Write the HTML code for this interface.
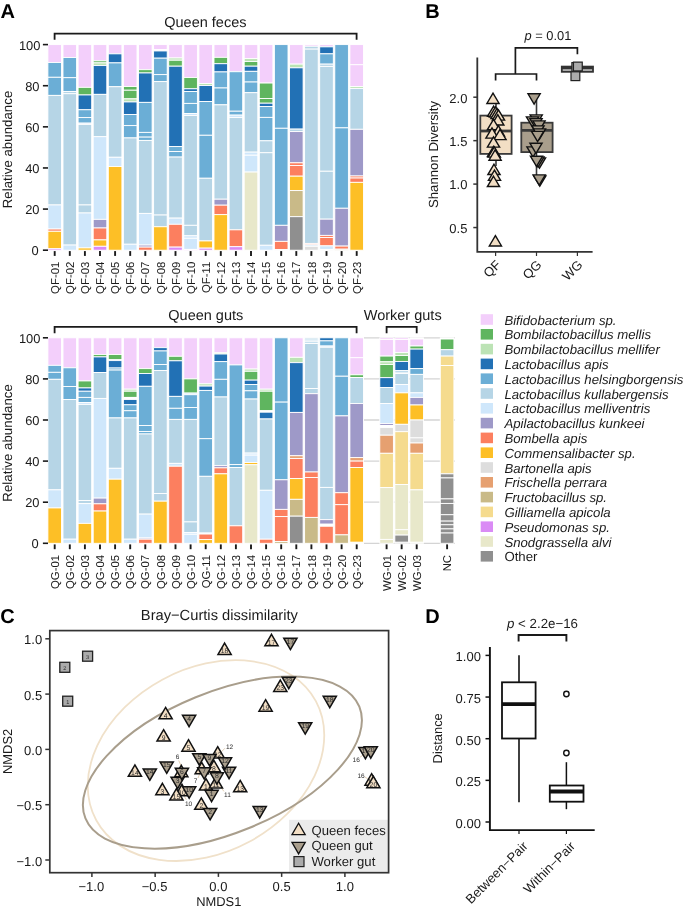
<!DOCTYPE html>
<html><head><meta charset="utf-8"><style>
html,body{margin:0;padding:0;background:#fff;width:685px;height:909px;overflow:hidden}
svg{display:block;will-change:transform;text-rendering:geometricPrecision}
</style></head><body>
<svg width="685" height="909" viewBox="0 0 685 909" font-family="Liberation Sans, sans-serif">
<rect width="685" height="909" fill="#fff"/>
<text x="0.4" y="17.9" font-size="20" font-weight="bold" fill="#000">A</text>
<rect x="47.90" y="44.60" width="13.6" height="17.89" fill="#F3CFFB" stroke="#fff" stroke-width="0.9"/>
<rect x="47.90" y="62.49" width="13.6" height="14.80" fill="#6BAED6" stroke="#fff" stroke-width="0.9"/>
<rect x="47.90" y="77.29" width="13.6" height="18.09" fill="#6BAED6" stroke="#fff" stroke-width="0.9"/>
<rect x="47.90" y="95.38" width="13.6" height="109.58" fill="#B6D5E6" stroke="#fff" stroke-width="0.9"/>
<rect x="47.90" y="204.97" width="13.6" height="24.06" fill="#CFE7FB" stroke="#fff" stroke-width="0.9"/>
<rect x="47.90" y="229.02" width="13.6" height="2.26" fill="#FC7F5F" stroke="#fff" stroke-width="0.9"/>
<rect x="47.90" y="231.28" width="13.6" height="17.48" fill="#FDBF26" stroke="#fff" stroke-width="0.9"/>
<rect x="47.90" y="248.76" width="13.6" height="1.44" fill="#DA8BF5" stroke="#fff" stroke-width="0.9"/>
<rect x="63.00" y="44.60" width="13.6" height="12.95" fill="#F3CFFB" stroke="#fff" stroke-width="0.9"/>
<rect x="63.00" y="57.55" width="13.6" height="20.15" fill="#6BAED6" stroke="#fff" stroke-width="0.9"/>
<rect x="63.00" y="77.70" width="13.6" height="13.78" fill="#6BAED6" stroke="#fff" stroke-width="0.9"/>
<rect x="63.00" y="91.48" width="13.6" height="2.26" fill="#B6D5E6" stroke="#fff" stroke-width="0.9"/>
<rect x="63.00" y="93.74" width="13.6" height="151.32" fill="#B6D5E6" stroke="#fff" stroke-width="0.9"/>
<rect x="63.00" y="245.06" width="13.6" height="5.14" fill="#CFE7FB" stroke="#fff" stroke-width="0.9"/>
<rect x="78.10" y="44.60" width="13.6" height="42.76" fill="#F3CFFB" stroke="#fff" stroke-width="0.9"/>
<rect x="78.10" y="87.36" width="13.6" height="7.61" fill="#5FB55F" stroke="#fff" stroke-width="0.9"/>
<rect x="78.10" y="94.97" width="13.6" height="14.80" fill="#2271B5" stroke="#fff" stroke-width="0.9"/>
<rect x="78.10" y="109.78" width="13.6" height="7.81" fill="#6BAED6" stroke="#fff" stroke-width="0.9"/>
<rect x="78.10" y="117.59" width="13.6" height="5.55" fill="#6BAED6" stroke="#fff" stroke-width="0.9"/>
<rect x="78.10" y="123.14" width="13.6" height="1.23" fill="#CFE7FB" stroke="#fff" stroke-width="0.9"/>
<rect x="78.10" y="124.37" width="13.6" height="80.60" fill="#B6D5E6" stroke="#fff" stroke-width="0.9"/>
<rect x="78.10" y="204.97" width="13.6" height="8.02" fill="#B6D5E6" stroke="#fff" stroke-width="0.9"/>
<rect x="78.10" y="212.99" width="13.6" height="34.95" fill="#CFE7FB" stroke="#fff" stroke-width="0.9"/>
<rect x="78.10" y="247.94" width="13.6" height="2.26" fill="#FDBF26" stroke="#fff" stroke-width="0.9"/>
<rect x="93.20" y="44.60" width="13.6" height="16.24" fill="#F3CFFB" stroke="#fff" stroke-width="0.9"/>
<rect x="93.20" y="60.84" width="13.6" height="2.06" fill="#5FB55F" stroke="#fff" stroke-width="0.9"/>
<rect x="93.20" y="62.90" width="13.6" height="2.67" fill="#BCE3B5" stroke="#fff" stroke-width="0.9"/>
<rect x="93.20" y="65.57" width="13.6" height="28.78" fill="#2271B5" stroke="#fff" stroke-width="0.9"/>
<rect x="93.20" y="94.36" width="13.6" height="42.35" fill="#B6D5E6" stroke="#fff" stroke-width="0.9"/>
<rect x="93.20" y="136.71" width="13.6" height="82.65" fill="#CFE7FB" stroke="#fff" stroke-width="0.9"/>
<rect x="93.20" y="219.36" width="13.6" height="8.64" fill="#9E99C8" stroke="#fff" stroke-width="0.9"/>
<rect x="93.20" y="228.00" width="13.6" height="11.92" fill="#FC7F5F" stroke="#fff" stroke-width="0.9"/>
<rect x="93.20" y="239.92" width="13.6" height="6.37" fill="#FDBF26" stroke="#fff" stroke-width="0.9"/>
<rect x="93.20" y="246.29" width="13.6" height="3.91" fill="#DA8BF5" stroke="#fff" stroke-width="0.9"/>
<rect x="108.30" y="44.60" width="13.6" height="9.25" fill="#F3CFFB" stroke="#fff" stroke-width="0.9"/>
<rect x="108.30" y="53.85" width="13.6" height="9.05" fill="#2271B5" stroke="#fff" stroke-width="0.9"/>
<rect x="108.30" y="62.90" width="13.6" height="23.85" fill="#6BAED6" stroke="#fff" stroke-width="0.9"/>
<rect x="108.30" y="86.75" width="13.6" height="70.52" fill="#B6D5E6" stroke="#fff" stroke-width="0.9"/>
<rect x="108.30" y="157.27" width="13.6" height="9.25" fill="#CFE7FB" stroke="#fff" stroke-width="0.9"/>
<rect x="108.30" y="166.52" width="13.6" height="83.68" fill="#FDBF26" stroke="#fff" stroke-width="0.9"/>
<rect x="123.40" y="44.60" width="13.6" height="41.94" fill="#F3CFFB" stroke="#fff" stroke-width="0.9"/>
<rect x="123.40" y="86.54" width="13.6" height="3.70" fill="#5FB55F" stroke="#fff" stroke-width="0.9"/>
<rect x="123.40" y="90.24" width="13.6" height="8.64" fill="#5FB55F" stroke="#fff" stroke-width="0.9"/>
<rect x="123.40" y="98.88" width="13.6" height="3.08" fill="#BCE3B5" stroke="#fff" stroke-width="0.9"/>
<rect x="123.40" y="101.96" width="13.6" height="12.54" fill="#2271B5" stroke="#fff" stroke-width="0.9"/>
<rect x="123.40" y="114.50" width="13.6" height="11.10" fill="#6BAED6" stroke="#fff" stroke-width="0.9"/>
<rect x="123.40" y="125.61" width="13.6" height="12.34" fill="#6BAED6" stroke="#fff" stroke-width="0.9"/>
<rect x="123.40" y="137.94" width="13.6" height="106.30" fill="#B6D5E6" stroke="#fff" stroke-width="0.9"/>
<rect x="123.40" y="244.24" width="13.6" height="5.96" fill="#CFE7FB" stroke="#fff" stroke-width="0.9"/>
<rect x="138.50" y="44.60" width="13.6" height="25.08" fill="#F3CFFB" stroke="#fff" stroke-width="0.9"/>
<rect x="138.50" y="69.68" width="13.6" height="3.29" fill="#5FB55F" stroke="#fff" stroke-width="0.9"/>
<rect x="138.50" y="72.97" width="13.6" height="29.40" fill="#2271B5" stroke="#fff" stroke-width="0.9"/>
<rect x="138.50" y="102.37" width="13.6" height="30.02" fill="#6BAED6" stroke="#fff" stroke-width="0.9"/>
<rect x="138.50" y="132.39" width="13.6" height="4.73" fill="#6BAED6" stroke="#fff" stroke-width="0.9"/>
<rect x="138.50" y="137.12" width="13.6" height="3.29" fill="#6BAED6" stroke="#fff" stroke-width="0.9"/>
<rect x="138.50" y="140.41" width="13.6" height="72.99" fill="#B6D5E6" stroke="#fff" stroke-width="0.9"/>
<rect x="138.50" y="213.40" width="13.6" height="31.66" fill="#CFE7FB" stroke="#fff" stroke-width="0.9"/>
<rect x="138.50" y="245.06" width="13.6" height="2.06" fill="#9E99C8" stroke="#fff" stroke-width="0.9"/>
<rect x="138.50" y="247.12" width="13.6" height="3.08" fill="#FC7F5F" stroke="#fff" stroke-width="0.9"/>
<rect x="153.60" y="44.60" width="13.6" height="5.14" fill="#F3CFFB" stroke="#fff" stroke-width="0.9"/>
<rect x="153.60" y="49.74" width="13.6" height="1.23" fill="#FFFFFF" stroke="#fff" stroke-width="0.9"/>
<rect x="153.60" y="50.97" width="13.6" height="7.20" fill="#2271B5" stroke="#fff" stroke-width="0.9"/>
<rect x="153.60" y="58.17" width="13.6" height="16.45" fill="#6BAED6" stroke="#fff" stroke-width="0.9"/>
<rect x="153.60" y="74.62" width="13.6" height="6.99" fill="#6BAED6" stroke="#fff" stroke-width="0.9"/>
<rect x="153.60" y="81.61" width="13.6" height="133.43" fill="#B6D5E6" stroke="#fff" stroke-width="0.9"/>
<rect x="153.60" y="215.04" width="13.6" height="11.72" fill="#B6D5E6" stroke="#fff" stroke-width="0.9"/>
<rect x="153.60" y="226.76" width="13.6" height="23.44" fill="#FDBF26" stroke="#fff" stroke-width="0.9"/>
<rect x="168.70" y="44.60" width="13.6" height="13.36" fill="#F3CFFB" stroke="#fff" stroke-width="0.9"/>
<rect x="168.70" y="57.96" width="13.6" height="2.26" fill="#BCE3B5" stroke="#fff" stroke-width="0.9"/>
<rect x="168.70" y="60.23" width="13.6" height="5.96" fill="#5FB55F" stroke="#fff" stroke-width="0.9"/>
<rect x="168.70" y="66.19" width="13.6" height="80.39" fill="#2271B5" stroke="#fff" stroke-width="0.9"/>
<rect x="168.70" y="146.58" width="13.6" height="4.93" fill="#6BAED6" stroke="#fff" stroke-width="0.9"/>
<rect x="168.70" y="151.51" width="13.6" height="5.55" fill="#6BAED6" stroke="#fff" stroke-width="0.9"/>
<rect x="168.70" y="157.06" width="13.6" height="61.06" fill="#B6D5E6" stroke="#fff" stroke-width="0.9"/>
<rect x="168.70" y="218.13" width="13.6" height="6.17" fill="#CFE7FB" stroke="#fff" stroke-width="0.9"/>
<rect x="168.70" y="224.29" width="13.6" height="22.82" fill="#FC7F5F" stroke="#fff" stroke-width="0.9"/>
<rect x="168.70" y="247.12" width="13.6" height="3.08" fill="#DA8BF5" stroke="#fff" stroke-width="0.9"/>
<rect x="183.80" y="44.60" width="13.6" height="32.90" fill="#F3CFFB" stroke="#fff" stroke-width="0.9"/>
<rect x="183.80" y="77.50" width="13.6" height="11.31" fill="#5FB55F" stroke="#fff" stroke-width="0.9"/>
<rect x="183.80" y="88.80" width="13.6" height="2.67" fill="#2271B5" stroke="#fff" stroke-width="0.9"/>
<rect x="183.80" y="91.48" width="13.6" height="11.92" fill="#6BAED6" stroke="#fff" stroke-width="0.9"/>
<rect x="183.80" y="103.40" width="13.6" height="10.07" fill="#6BAED6" stroke="#fff" stroke-width="0.9"/>
<rect x="183.80" y="113.48" width="13.6" height="2.06" fill="#CFE7FB" stroke="#fff" stroke-width="0.9"/>
<rect x="183.80" y="115.53" width="13.6" height="109.79" fill="#B6D5E6" stroke="#fff" stroke-width="0.9"/>
<rect x="183.80" y="225.32" width="13.6" height="10.49" fill="#B6D5E6" stroke="#fff" stroke-width="0.9"/>
<rect x="183.80" y="235.81" width="13.6" height="2.47" fill="#CFE7FB" stroke="#fff" stroke-width="0.9"/>
<rect x="183.80" y="238.28" width="13.6" height="11.10" fill="#CFE7FB" stroke="#fff" stroke-width="0.9"/>
<rect x="183.80" y="249.38" width="13.6" height="0.82" fill="#DA8BF5" stroke="#fff" stroke-width="0.9"/>
<rect x="198.90" y="44.60" width="13.6" height="38.86" fill="#F3CFFB" stroke="#fff" stroke-width="0.9"/>
<rect x="198.90" y="83.46" width="13.6" height="2.06" fill="#BCE3B5" stroke="#fff" stroke-width="0.9"/>
<rect x="198.90" y="85.51" width="13.6" height="16.04" fill="#2271B5" stroke="#fff" stroke-width="0.9"/>
<rect x="198.90" y="101.55" width="13.6" height="33.72" fill="#6BAED6" stroke="#fff" stroke-width="0.9"/>
<rect x="198.90" y="135.27" width="13.6" height="42.97" fill="#6BAED6" stroke="#fff" stroke-width="0.9"/>
<rect x="198.90" y="178.24" width="13.6" height="62.71" fill="#B6D5E6" stroke="#fff" stroke-width="0.9"/>
<rect x="198.90" y="240.95" width="13.6" height="7.20" fill="#FDBF26" stroke="#fff" stroke-width="0.9"/>
<rect x="198.90" y="248.14" width="13.6" height="2.06" fill="#DA8BF5" stroke="#fff" stroke-width="0.9"/>
<rect x="214.00" y="44.60" width="13.6" height="12.75" fill="#F3CFFB" stroke="#fff" stroke-width="0.9"/>
<rect x="214.00" y="57.35" width="13.6" height="6.37" fill="#5FB55F" stroke="#fff" stroke-width="0.9"/>
<rect x="214.00" y="63.72" width="13.6" height="8.22" fill="#2271B5" stroke="#fff" stroke-width="0.9"/>
<rect x="214.00" y="71.94" width="13.6" height="16.04" fill="#6BAED6" stroke="#fff" stroke-width="0.9"/>
<rect x="214.00" y="87.98" width="13.6" height="16.86" fill="#6BAED6" stroke="#fff" stroke-width="0.9"/>
<rect x="214.00" y="104.84" width="13.6" height="94.37" fill="#B6D5E6" stroke="#fff" stroke-width="0.9"/>
<rect x="214.00" y="199.21" width="13.6" height="5.96" fill="#9E99C8" stroke="#fff" stroke-width="0.9"/>
<rect x="214.00" y="205.17" width="13.6" height="9.46" fill="#FC7F5F" stroke="#fff" stroke-width="0.9"/>
<rect x="214.00" y="214.63" width="13.6" height="35.57" fill="#FDBF26" stroke="#fff" stroke-width="0.9"/>
<rect x="229.10" y="44.60" width="13.6" height="27.14" fill="#F3CFFB" stroke="#fff" stroke-width="0.9"/>
<rect x="229.10" y="71.74" width="13.6" height="39.48" fill="#6BAED6" stroke="#fff" stroke-width="0.9"/>
<rect x="229.10" y="111.21" width="13.6" height="3.91" fill="#6BAED6" stroke="#fff" stroke-width="0.9"/>
<rect x="229.10" y="115.12" width="13.6" height="2.47" fill="#CFE7FB" stroke="#fff" stroke-width="0.9"/>
<rect x="229.10" y="117.59" width="13.6" height="112.26" fill="#B6D5E6" stroke="#fff" stroke-width="0.9"/>
<rect x="229.10" y="229.85" width="13.6" height="16.86" fill="#FC7F5F" stroke="#fff" stroke-width="0.9"/>
<rect x="229.10" y="246.70" width="13.6" height="3.50" fill="#DA8BF5" stroke="#fff" stroke-width="0.9"/>
<rect x="244.20" y="44.60" width="13.6" height="13.98" fill="#F3CFFB" stroke="#fff" stroke-width="0.9"/>
<rect x="244.20" y="58.58" width="13.6" height="2.88" fill="#BCE3B5" stroke="#fff" stroke-width="0.9"/>
<rect x="244.20" y="61.46" width="13.6" height="4.73" fill="#5FB55F" stroke="#fff" stroke-width="0.9"/>
<rect x="244.20" y="66.19" width="13.6" height="5.14" fill="#2271B5" stroke="#fff" stroke-width="0.9"/>
<rect x="244.20" y="71.33" width="13.6" height="10.69" fill="#6BAED6" stroke="#fff" stroke-width="0.9"/>
<rect x="244.20" y="82.02" width="13.6" height="10.69" fill="#6BAED6" stroke="#fff" stroke-width="0.9"/>
<rect x="244.20" y="92.71" width="13.6" height="59.42" fill="#B6D5E6" stroke="#fff" stroke-width="0.9"/>
<rect x="244.20" y="152.13" width="13.6" height="3.08" fill="#CFE7FB" stroke="#fff" stroke-width="0.9"/>
<rect x="244.20" y="155.21" width="13.6" height="16.86" fill="#CFE7FB" stroke="#fff" stroke-width="0.9"/>
<rect x="244.20" y="172.07" width="13.6" height="78.13" fill="#E8E8CA" stroke="#fff" stroke-width="0.9"/>
<rect x="259.30" y="44.60" width="13.6" height="38.45" fill="#F3CFFB" stroke="#fff" stroke-width="0.9"/>
<rect x="259.30" y="83.05" width="13.6" height="15.42" fill="#5FB55F" stroke="#fff" stroke-width="0.9"/>
<rect x="259.30" y="98.47" width="13.6" height="4.73" fill="#5FB55F" stroke="#fff" stroke-width="0.9"/>
<rect x="259.30" y="103.20" width="13.6" height="3.29" fill="#2271B5" stroke="#fff" stroke-width="0.9"/>
<rect x="259.30" y="106.49" width="13.6" height="10.90" fill="#6BAED6" stroke="#fff" stroke-width="0.9"/>
<rect x="259.30" y="117.38" width="13.6" height="23.44" fill="#6BAED6" stroke="#fff" stroke-width="0.9"/>
<rect x="259.30" y="140.82" width="13.6" height="11.92" fill="#B6D5E6" stroke="#fff" stroke-width="0.9"/>
<rect x="259.30" y="152.75" width="13.6" height="92.52" fill="#B6D5E6" stroke="#fff" stroke-width="0.9"/>
<rect x="259.30" y="245.27" width="13.6" height="4.93" fill="#CFE7FB" stroke="#fff" stroke-width="0.9"/>
<rect x="274.40" y="44.60" width="13.6" height="83.68" fill="#6BAED6" stroke="#fff" stroke-width="0.9"/>
<rect x="274.40" y="128.28" width="13.6" height="97.04" fill="#6BAED6" stroke="#fff" stroke-width="0.9"/>
<rect x="274.40" y="225.32" width="13.6" height="16.04" fill="#9E99C8" stroke="#fff" stroke-width="0.9"/>
<rect x="274.40" y="241.36" width="13.6" height="8.22" fill="#FC7F5F" stroke="#fff" stroke-width="0.9"/>
<rect x="274.40" y="249.58" width="13.6" height="0.62" fill="#DDDDDD" stroke="#fff" stroke-width="0.9"/>
<rect x="289.50" y="44.60" width="13.6" height="19.53" fill="#F3CFFB" stroke="#fff" stroke-width="0.9"/>
<rect x="289.50" y="64.13" width="13.6" height="3.70" fill="#BCE3B5" stroke="#fff" stroke-width="0.9"/>
<rect x="289.50" y="67.83" width="13.6" height="61.27" fill="#2271B5" stroke="#fff" stroke-width="0.9"/>
<rect x="289.50" y="129.10" width="13.6" height="2.47" fill="#B6D5E6" stroke="#fff" stroke-width="0.9"/>
<rect x="289.50" y="131.57" width="13.6" height="31.25" fill="#9E99C8" stroke="#fff" stroke-width="0.9"/>
<rect x="289.50" y="162.82" width="13.6" height="2.67" fill="#FC7F5F" stroke="#fff" stroke-width="0.9"/>
<rect x="289.50" y="165.49" width="13.6" height="10.69" fill="#FC7F5F" stroke="#fff" stroke-width="0.9"/>
<rect x="289.50" y="176.18" width="13.6" height="14.39" fill="#FDBF26" stroke="#fff" stroke-width="0.9"/>
<rect x="289.50" y="190.58" width="13.6" height="26.11" fill="#C9BA88" stroke="#fff" stroke-width="0.9"/>
<rect x="289.50" y="216.69" width="13.6" height="33.51" fill="#8F8F8F" stroke="#fff" stroke-width="0.9"/>
<rect x="304.60" y="44.60" width="13.6" height="1.64" fill="#F3CFFB" stroke="#fff" stroke-width="0.9"/>
<rect x="304.60" y="46.24" width="13.6" height="2.88" fill="#B6D5E6" stroke="#fff" stroke-width="0.9"/>
<rect x="304.60" y="49.12" width="13.6" height="194.29" fill="#B6D5E6" stroke="#fff" stroke-width="0.9"/>
<rect x="304.60" y="243.42" width="13.6" height="1.44" fill="#FC7F5F" stroke="#fff" stroke-width="0.9"/>
<rect x="304.60" y="244.85" width="13.6" height="1.44" fill="#CFE7FB" stroke="#fff" stroke-width="0.9"/>
<rect x="304.60" y="246.29" width="13.6" height="3.91" fill="#DDDDDD" stroke="#fff" stroke-width="0.9"/>
<rect x="319.70" y="44.60" width="13.6" height="2.26" fill="#F3CFFB" stroke="#fff" stroke-width="0.9"/>
<rect x="319.70" y="46.86" width="13.6" height="6.99" fill="#2271B5" stroke="#fff" stroke-width="0.9"/>
<rect x="319.70" y="53.85" width="13.6" height="10.28" fill="#6BAED6" stroke="#fff" stroke-width="0.9"/>
<rect x="319.70" y="64.13" width="13.6" height="2.26" fill="#B6D5E6" stroke="#fff" stroke-width="0.9"/>
<rect x="319.70" y="66.39" width="13.6" height="104.86" fill="#B6D5E6" stroke="#fff" stroke-width="0.9"/>
<rect x="319.70" y="171.25" width="13.6" height="47.90" fill="#B6D5E6" stroke="#fff" stroke-width="0.9"/>
<rect x="319.70" y="219.15" width="13.6" height="16.24" fill="#9E99C8" stroke="#fff" stroke-width="0.9"/>
<rect x="319.70" y="235.40" width="13.6" height="2.06" fill="#FC7F5F" stroke="#fff" stroke-width="0.9"/>
<rect x="319.70" y="237.45" width="13.6" height="8.43" fill="#FC7F5F" stroke="#fff" stroke-width="0.9"/>
<rect x="319.70" y="245.88" width="13.6" height="3.50" fill="#CFE7FB" stroke="#fff" stroke-width="0.9"/>
<rect x="319.70" y="249.38" width="13.6" height="0.82" fill="#DDDDDD" stroke="#fff" stroke-width="0.9"/>
<rect x="334.80" y="44.60" width="13.6" height="83.27" fill="#6BAED6" stroke="#fff" stroke-width="0.9"/>
<rect x="334.80" y="127.87" width="13.6" height="80.39" fill="#6BAED6" stroke="#fff" stroke-width="0.9"/>
<rect x="334.80" y="208.26" width="13.6" height="37.83" fill="#9E99C8" stroke="#fff" stroke-width="0.9"/>
<rect x="334.80" y="246.09" width="13.6" height="3.08" fill="#FC7F5F" stroke="#fff" stroke-width="0.9"/>
<rect x="334.80" y="249.17" width="13.6" height="1.03" fill="#C9BA88" stroke="#fff" stroke-width="0.9"/>
<rect x="349.90" y="44.60" width="13.6" height="20.15" fill="#F3CFFB" stroke="#fff" stroke-width="0.9"/>
<rect x="349.90" y="64.75" width="13.6" height="21.79" fill="#F3CFFB" stroke="#fff" stroke-width="0.9"/>
<rect x="349.90" y="86.54" width="13.6" height="1.85" fill="#BCE3B5" stroke="#fff" stroke-width="0.9"/>
<rect x="349.90" y="88.39" width="13.6" height="40.91" fill="#B6D5E6" stroke="#fff" stroke-width="0.9"/>
<rect x="349.90" y="129.31" width="13.6" height="46.67" fill="#9E99C8" stroke="#fff" stroke-width="0.9"/>
<rect x="349.90" y="175.98" width="13.6" height="2.06" fill="#FC7F5F" stroke="#fff" stroke-width="0.9"/>
<rect x="349.90" y="178.03" width="13.6" height="4.32" fill="#FC7F5F" stroke="#fff" stroke-width="0.9"/>
<rect x="349.90" y="182.35" width="13.6" height="67.85" fill="#FDBF26" stroke="#fff" stroke-width="0.9"/>
<line x1="42.9" x2="48" y1="250.20" y2="250.20" stroke="#1a1a1a" stroke-width="1.6"/>
<text x="38.60" y="255.10" text-anchor="end" font-size="12.9" fill="#1a1a1a">0</text>
<line x1="42.9" x2="48" y1="209.08" y2="209.08" stroke="#1a1a1a" stroke-width="1.6"/>
<text x="39.50" y="213.98" text-anchor="end" font-size="12.9" fill="#1a1a1a">20</text>
<line x1="42.9" x2="48" y1="167.96" y2="167.96" stroke="#1a1a1a" stroke-width="1.6"/>
<text x="39.50" y="172.86" text-anchor="end" font-size="12.9" fill="#1a1a1a">40</text>
<line x1="42.9" x2="48" y1="126.84" y2="126.84" stroke="#1a1a1a" stroke-width="1.6"/>
<text x="39.50" y="131.74" text-anchor="end" font-size="12.9" fill="#1a1a1a">60</text>
<line x1="42.9" x2="48" y1="85.72" y2="85.72" stroke="#1a1a1a" stroke-width="1.6"/>
<text x="39.50" y="90.62" text-anchor="end" font-size="12.9" fill="#1a1a1a">80</text>
<line x1="42.9" x2="48" y1="44.60" y2="44.60" stroke="#1a1a1a" stroke-width="1.6"/>
<text x="40.40" y="49.50" text-anchor="end" font-size="12.9" fill="#1a1a1a">100</text>
<line x1="54.70" x2="54.70" y1="251.1" y2="255.9" stroke="#1a1a1a" stroke-width="1.9"/>
<text transform="translate(58.80,261.6) rotate(-90)" text-anchor="end" font-size="11.4" fill="#1a1a1a">QF-01</text>
<line x1="69.80" x2="69.80" y1="251.1" y2="255.9" stroke="#1a1a1a" stroke-width="1.9"/>
<text transform="translate(73.90,261.6) rotate(-90)" text-anchor="end" font-size="11.4" fill="#1a1a1a">QF-02</text>
<line x1="84.90" x2="84.90" y1="251.1" y2="255.9" stroke="#1a1a1a" stroke-width="1.9"/>
<text transform="translate(89.00,261.6) rotate(-90)" text-anchor="end" font-size="11.4" fill="#1a1a1a">QF-03</text>
<line x1="100.00" x2="100.00" y1="251.1" y2="255.9" stroke="#1a1a1a" stroke-width="1.9"/>
<text transform="translate(104.10,261.6) rotate(-90)" text-anchor="end" font-size="11.4" fill="#1a1a1a">QF-04</text>
<line x1="115.10" x2="115.10" y1="251.1" y2="255.9" stroke="#1a1a1a" stroke-width="1.9"/>
<text transform="translate(119.20,261.6) rotate(-90)" text-anchor="end" font-size="11.4" fill="#1a1a1a">QF-05</text>
<line x1="130.20" x2="130.20" y1="251.1" y2="255.9" stroke="#1a1a1a" stroke-width="1.9"/>
<text transform="translate(134.30,261.6) rotate(-90)" text-anchor="end" font-size="11.4" fill="#1a1a1a">QF-06</text>
<line x1="145.30" x2="145.30" y1="251.1" y2="255.9" stroke="#1a1a1a" stroke-width="1.9"/>
<text transform="translate(149.40,261.6) rotate(-90)" text-anchor="end" font-size="11.4" fill="#1a1a1a">QF-07</text>
<line x1="160.40" x2="160.40" y1="251.1" y2="255.9" stroke="#1a1a1a" stroke-width="1.9"/>
<text transform="translate(164.50,261.6) rotate(-90)" text-anchor="end" font-size="11.4" fill="#1a1a1a">QF-08</text>
<line x1="175.50" x2="175.50" y1="251.1" y2="255.9" stroke="#1a1a1a" stroke-width="1.9"/>
<text transform="translate(179.60,261.6) rotate(-90)" text-anchor="end" font-size="11.4" fill="#1a1a1a">QF-09</text>
<line x1="190.60" x2="190.60" y1="251.1" y2="255.9" stroke="#1a1a1a" stroke-width="1.9"/>
<text transform="translate(194.70,261.6) rotate(-90)" text-anchor="end" font-size="11.4" fill="#1a1a1a">QF-10</text>
<line x1="205.70" x2="205.70" y1="251.1" y2="255.9" stroke="#1a1a1a" stroke-width="1.9"/>
<text transform="translate(209.80,261.6) rotate(-90)" text-anchor="end" font-size="11.4" fill="#1a1a1a">QF-11</text>
<line x1="220.80" x2="220.80" y1="251.1" y2="255.9" stroke="#1a1a1a" stroke-width="1.9"/>
<text transform="translate(224.90,261.6) rotate(-90)" text-anchor="end" font-size="11.4" fill="#1a1a1a">QF-12</text>
<line x1="235.90" x2="235.90" y1="251.1" y2="255.9" stroke="#1a1a1a" stroke-width="1.9"/>
<text transform="translate(240.00,261.6) rotate(-90)" text-anchor="end" font-size="11.4" fill="#1a1a1a">QF-13</text>
<line x1="251.00" x2="251.00" y1="251.1" y2="255.9" stroke="#1a1a1a" stroke-width="1.9"/>
<text transform="translate(255.10,261.6) rotate(-90)" text-anchor="end" font-size="11.4" fill="#1a1a1a">QF-14</text>
<line x1="266.10" x2="266.10" y1="251.1" y2="255.9" stroke="#1a1a1a" stroke-width="1.9"/>
<text transform="translate(270.20,261.6) rotate(-90)" text-anchor="end" font-size="11.4" fill="#1a1a1a">QF-15</text>
<line x1="281.20" x2="281.20" y1="251.1" y2="255.9" stroke="#1a1a1a" stroke-width="1.9"/>
<text transform="translate(285.30,261.6) rotate(-90)" text-anchor="end" font-size="11.4" fill="#1a1a1a">QF-16</text>
<line x1="296.30" x2="296.30" y1="251.1" y2="255.9" stroke="#1a1a1a" stroke-width="1.9"/>
<text transform="translate(300.40,261.6) rotate(-90)" text-anchor="end" font-size="11.4" fill="#1a1a1a">QF-17</text>
<line x1="311.40" x2="311.40" y1="251.1" y2="255.9" stroke="#1a1a1a" stroke-width="1.9"/>
<text transform="translate(315.50,261.6) rotate(-90)" text-anchor="end" font-size="11.4" fill="#1a1a1a">QF-18</text>
<line x1="326.50" x2="326.50" y1="251.1" y2="255.9" stroke="#1a1a1a" stroke-width="1.9"/>
<text transform="translate(330.60,261.6) rotate(-90)" text-anchor="end" font-size="11.4" fill="#1a1a1a">QF-19</text>
<line x1="341.60" x2="341.60" y1="251.1" y2="255.9" stroke="#1a1a1a" stroke-width="1.9"/>
<text transform="translate(345.70,261.6) rotate(-90)" text-anchor="end" font-size="11.4" fill="#1a1a1a">QF-20</text>
<line x1="356.70" x2="356.70" y1="251.1" y2="255.9" stroke="#1a1a1a" stroke-width="1.9"/>
<text transform="translate(360.80,261.6) rotate(-90)" text-anchor="end" font-size="11.4" fill="#1a1a1a">QF-23</text>
<text transform="translate(11.6,149.5) rotate(-90)" text-anchor="middle" font-size="13.3" fill="#1a1a1a">Relative abundance</text>
<text x="205.4" y="27" text-anchor="middle" font-size="14.5" fill="#1a1a1a">Queen feces</text>
<path d="M54.6,39.8 V33.7 H356.6 V39.8" fill="none" stroke="#1a1a1a" stroke-width="1.8"/>
<line x1="364" x2="455" y1="543.30" y2="543.30" stroke="#D4D4D4" stroke-width="1.3"/>
<line x1="364" x2="455" y1="502.20" y2="502.20" stroke="#D4D4D4" stroke-width="1.3"/>
<line x1="364" x2="455" y1="461.10" y2="461.10" stroke="#D4D4D4" stroke-width="1.3"/>
<line x1="364" x2="455" y1="420.00" y2="420.00" stroke="#D4D4D4" stroke-width="1.3"/>
<line x1="364" x2="455" y1="378.90" y2="378.90" stroke="#D4D4D4" stroke-width="1.3"/>
<line x1="364" x2="455" y1="337.80" y2="337.80" stroke="#D4D4D4" stroke-width="1.3"/>
<rect x="47.90" y="337.80" width="13.6" height="27.54" fill="#F3CFFB" stroke="#fff" stroke-width="0.9"/>
<rect x="47.90" y="365.34" width="13.6" height="6.99" fill="#6BAED6" stroke="#fff" stroke-width="0.9"/>
<rect x="47.90" y="372.32" width="13.6" height="6.99" fill="#6BAED6" stroke="#fff" stroke-width="0.9"/>
<rect x="47.90" y="379.31" width="13.6" height="110.56" fill="#B6D5E6" stroke="#fff" stroke-width="0.9"/>
<rect x="47.90" y="489.87" width="13.6" height="18.08" fill="#CFE7FB" stroke="#fff" stroke-width="0.9"/>
<rect x="47.90" y="507.95" width="13.6" height="35.35" fill="#FDBF26" stroke="#fff" stroke-width="0.9"/>
<rect x="63.00" y="337.80" width="13.6" height="30.00" fill="#F3CFFB" stroke="#fff" stroke-width="0.9"/>
<rect x="63.00" y="367.80" width="13.6" height="18.70" fill="#6BAED6" stroke="#fff" stroke-width="0.9"/>
<rect x="63.00" y="386.50" width="13.6" height="12.95" fill="#6BAED6" stroke="#fff" stroke-width="0.9"/>
<rect x="63.00" y="399.45" width="13.6" height="139.74" fill="#B6D5E6" stroke="#fff" stroke-width="0.9"/>
<rect x="63.00" y="539.19" width="13.6" height="4.11" fill="#CFE7FB" stroke="#fff" stroke-width="0.9"/>
<rect x="78.10" y="337.80" width="13.6" height="43.15" fill="#F3CFFB" stroke="#fff" stroke-width="0.9"/>
<rect x="78.10" y="380.95" width="13.6" height="6.99" fill="#5FB55F" stroke="#fff" stroke-width="0.9"/>
<rect x="78.10" y="387.94" width="13.6" height="3.29" fill="#2271B5" stroke="#fff" stroke-width="0.9"/>
<rect x="78.10" y="391.23" width="13.6" height="6.17" fill="#6BAED6" stroke="#fff" stroke-width="0.9"/>
<rect x="78.10" y="397.39" width="13.6" height="5.14" fill="#6BAED6" stroke="#fff" stroke-width="0.9"/>
<rect x="78.10" y="402.53" width="13.6" height="1.85" fill="#CFE7FB" stroke="#fff" stroke-width="0.9"/>
<rect x="78.10" y="404.38" width="13.6" height="96.17" fill="#B6D5E6" stroke="#fff" stroke-width="0.9"/>
<rect x="78.10" y="500.56" width="13.6" height="3.08" fill="#B6D5E6" stroke="#fff" stroke-width="0.9"/>
<rect x="78.10" y="503.64" width="13.6" height="19.73" fill="#CFE7FB" stroke="#fff" stroke-width="0.9"/>
<rect x="78.10" y="523.37" width="13.6" height="19.93" fill="#FDBF26" stroke="#fff" stroke-width="0.9"/>
<rect x="93.20" y="337.80" width="13.6" height="16.65" fill="#F3CFFB" stroke="#fff" stroke-width="0.9"/>
<rect x="93.20" y="354.45" width="13.6" height="2.47" fill="#5FB55F" stroke="#fff" stroke-width="0.9"/>
<rect x="93.20" y="356.91" width="13.6" height="15.62" fill="#2271B5" stroke="#fff" stroke-width="0.9"/>
<rect x="93.20" y="372.53" width="13.6" height="25.89" fill="#B6D5E6" stroke="#fff" stroke-width="0.9"/>
<rect x="93.20" y="398.42" width="13.6" height="99.67" fill="#CFE7FB" stroke="#fff" stroke-width="0.9"/>
<rect x="93.20" y="498.09" width="13.6" height="5.75" fill="#9E99C8" stroke="#fff" stroke-width="0.9"/>
<rect x="93.20" y="503.84" width="13.6" height="7.19" fill="#FC7F5F" stroke="#fff" stroke-width="0.9"/>
<rect x="93.20" y="511.04" width="13.6" height="32.26" fill="#FDBF26" stroke="#fff" stroke-width="0.9"/>
<rect x="108.30" y="337.80" width="13.6" height="16.65" fill="#F3CFFB" stroke="#fff" stroke-width="0.9"/>
<rect x="108.30" y="354.45" width="13.6" height="5.34" fill="#5FB55F" stroke="#fff" stroke-width="0.9"/>
<rect x="108.30" y="359.79" width="13.6" height="0.82" fill="#CFE7FB" stroke="#fff" stroke-width="0.9"/>
<rect x="108.30" y="360.61" width="13.6" height="7.40" fill="#2271B5" stroke="#fff" stroke-width="0.9"/>
<rect x="108.30" y="368.01" width="13.6" height="2.06" fill="#6BAED6" stroke="#fff" stroke-width="0.9"/>
<rect x="108.30" y="370.06" width="13.6" height="47.88" fill="#6BAED6" stroke="#fff" stroke-width="0.9"/>
<rect x="108.30" y="417.94" width="13.6" height="50.35" fill="#B6D5E6" stroke="#fff" stroke-width="0.9"/>
<rect x="108.30" y="468.29" width="13.6" height="10.89" fill="#CFE7FB" stroke="#fff" stroke-width="0.9"/>
<rect x="108.30" y="479.18" width="13.6" height="64.12" fill="#FDBF26" stroke="#fff" stroke-width="0.9"/>
<rect x="123.40" y="337.80" width="13.6" height="51.38" fill="#F3CFFB" stroke="#fff" stroke-width="0.9"/>
<rect x="123.40" y="389.17" width="13.6" height="2.05" fill="#BCE3B5" stroke="#fff" stroke-width="0.9"/>
<rect x="123.40" y="391.23" width="13.6" height="6.17" fill="#5FB55F" stroke="#fff" stroke-width="0.9"/>
<rect x="123.40" y="397.39" width="13.6" height="2.05" fill="#FFFFFF" stroke="#fff" stroke-width="0.9"/>
<rect x="123.40" y="399.45" width="13.6" height="5.34" fill="#2271B5" stroke="#fff" stroke-width="0.9"/>
<rect x="123.40" y="404.79" width="13.6" height="5.96" fill="#6BAED6" stroke="#fff" stroke-width="0.9"/>
<rect x="123.40" y="410.75" width="13.6" height="7.19" fill="#6BAED6" stroke="#fff" stroke-width="0.9"/>
<rect x="123.40" y="417.94" width="13.6" height="121.25" fill="#B6D5E6" stroke="#fff" stroke-width="0.9"/>
<rect x="123.40" y="539.19" width="13.6" height="4.11" fill="#CFE7FB" stroke="#fff" stroke-width="0.9"/>
<rect x="138.50" y="337.80" width="13.6" height="30.82" fill="#F3CFFB" stroke="#fff" stroke-width="0.9"/>
<rect x="138.50" y="368.62" width="13.6" height="4.93" fill="#5FB55F" stroke="#fff" stroke-width="0.9"/>
<rect x="138.50" y="373.56" width="13.6" height="12.74" fill="#2271B5" stroke="#fff" stroke-width="0.9"/>
<rect x="138.50" y="386.30" width="13.6" height="39.25" fill="#6BAED6" stroke="#fff" stroke-width="0.9"/>
<rect x="138.50" y="425.55" width="13.6" height="5.96" fill="#6BAED6" stroke="#fff" stroke-width="0.9"/>
<rect x="138.50" y="431.51" width="13.6" height="2.47" fill="#6BAED6" stroke="#fff" stroke-width="0.9"/>
<rect x="138.50" y="433.97" width="13.6" height="80.14" fill="#B6D5E6" stroke="#fff" stroke-width="0.9"/>
<rect x="138.50" y="514.12" width="13.6" height="23.84" fill="#CFE7FB" stroke="#fff" stroke-width="0.9"/>
<rect x="138.50" y="537.96" width="13.6" height="1.23" fill="#9E99C8" stroke="#fff" stroke-width="0.9"/>
<rect x="138.50" y="539.19" width="13.6" height="4.11" fill="#FC7F5F" stroke="#fff" stroke-width="0.9"/>
<rect x="153.60" y="337.80" width="13.6" height="9.86" fill="#F3CFFB" stroke="#fff" stroke-width="0.9"/>
<rect x="153.60" y="347.66" width="13.6" height="3.29" fill="#2271B5" stroke="#fff" stroke-width="0.9"/>
<rect x="153.60" y="350.95" width="13.6" height="13.56" fill="#6BAED6" stroke="#fff" stroke-width="0.9"/>
<rect x="153.60" y="364.51" width="13.6" height="5.96" fill="#6BAED6" stroke="#fff" stroke-width="0.9"/>
<rect x="153.60" y="370.47" width="13.6" height="123.09" fill="#B6D5E6" stroke="#fff" stroke-width="0.9"/>
<rect x="153.60" y="493.57" width="13.6" height="7.60" fill="#B6D5E6" stroke="#fff" stroke-width="0.9"/>
<rect x="153.60" y="501.17" width="13.6" height="42.13" fill="#FDBF26" stroke="#fff" stroke-width="0.9"/>
<rect x="168.70" y="337.80" width="13.6" height="18.50" fill="#F3CFFB" stroke="#fff" stroke-width="0.9"/>
<rect x="168.70" y="356.29" width="13.6" height="4.52" fill="#5FB55F" stroke="#fff" stroke-width="0.9"/>
<rect x="168.70" y="360.82" width="13.6" height="35.55" fill="#2271B5" stroke="#fff" stroke-width="0.9"/>
<rect x="168.70" y="396.37" width="13.6" height="11.92" fill="#6BAED6" stroke="#fff" stroke-width="0.9"/>
<rect x="168.70" y="408.29" width="13.6" height="11.10" fill="#6BAED6" stroke="#fff" stroke-width="0.9"/>
<rect x="168.70" y="419.38" width="13.6" height="43.98" fill="#B6D5E6" stroke="#fff" stroke-width="0.9"/>
<rect x="168.70" y="463.36" width="13.6" height="2.88" fill="#CFE7FB" stroke="#fff" stroke-width="0.9"/>
<rect x="168.70" y="466.24" width="13.6" height="77.06" fill="#FC7F5F" stroke="#fff" stroke-width="0.9"/>
<rect x="183.80" y="337.80" width="13.6" height="41.10" fill="#F3CFFB" stroke="#fff" stroke-width="0.9"/>
<rect x="183.80" y="378.90" width="13.6" height="14.18" fill="#5FB55F" stroke="#fff" stroke-width="0.9"/>
<rect x="183.80" y="393.08" width="13.6" height="1.64" fill="#CFE7FB" stroke="#fff" stroke-width="0.9"/>
<rect x="183.80" y="394.72" width="13.6" height="12.74" fill="#6BAED6" stroke="#fff" stroke-width="0.9"/>
<rect x="183.80" y="407.46" width="13.6" height="11.92" fill="#6BAED6" stroke="#fff" stroke-width="0.9"/>
<rect x="183.80" y="419.38" width="13.6" height="102.54" fill="#B6D5E6" stroke="#fff" stroke-width="0.9"/>
<rect x="183.80" y="521.93" width="13.6" height="10.69" fill="#B6D5E6" stroke="#fff" stroke-width="0.9"/>
<rect x="183.80" y="532.61" width="13.6" height="1.64" fill="#CFE7FB" stroke="#fff" stroke-width="0.9"/>
<rect x="183.80" y="534.26" width="13.6" height="9.04" fill="#CFE7FB" stroke="#fff" stroke-width="0.9"/>
<rect x="198.90" y="337.80" width="13.6" height="46.03" fill="#F3CFFB" stroke="#fff" stroke-width="0.9"/>
<rect x="198.90" y="383.83" width="13.6" height="2.26" fill="#BCE3B5" stroke="#fff" stroke-width="0.9"/>
<rect x="198.90" y="386.09" width="13.6" height="4.32" fill="#2271B5" stroke="#fff" stroke-width="0.9"/>
<rect x="198.90" y="390.41" width="13.6" height="48.29" fill="#6BAED6" stroke="#fff" stroke-width="0.9"/>
<rect x="198.90" y="438.70" width="13.6" height="37.61" fill="#6BAED6" stroke="#fff" stroke-width="0.9"/>
<rect x="198.90" y="476.31" width="13.6" height="56.72" fill="#B6D5E6" stroke="#fff" stroke-width="0.9"/>
<rect x="198.90" y="533.02" width="13.6" height="1.03" fill="#CFE7FB" stroke="#fff" stroke-width="0.9"/>
<rect x="198.90" y="534.05" width="13.6" height="5.55" fill="#FC7F5F" stroke="#fff" stroke-width="0.9"/>
<rect x="198.90" y="539.60" width="13.6" height="3.70" fill="#FDBF26" stroke="#fff" stroke-width="0.9"/>
<rect x="214.00" y="337.80" width="13.6" height="15.00" fill="#F3CFFB" stroke="#fff" stroke-width="0.9"/>
<rect x="214.00" y="352.80" width="13.6" height="1.23" fill="#BCE3B5" stroke="#fff" stroke-width="0.9"/>
<rect x="214.00" y="354.03" width="13.6" height="7.60" fill="#2271B5" stroke="#fff" stroke-width="0.9"/>
<rect x="214.00" y="361.64" width="13.6" height="17.67" fill="#6BAED6" stroke="#fff" stroke-width="0.9"/>
<rect x="214.00" y="379.31" width="13.6" height="17.67" fill="#6BAED6" stroke="#fff" stroke-width="0.9"/>
<rect x="214.00" y="396.98" width="13.6" height="68.64" fill="#B6D5E6" stroke="#fff" stroke-width="0.9"/>
<rect x="214.00" y="465.62" width="13.6" height="2.26" fill="#9E99C8" stroke="#fff" stroke-width="0.9"/>
<rect x="214.00" y="467.88" width="13.6" height="5.96" fill="#FC7F5F" stroke="#fff" stroke-width="0.9"/>
<rect x="214.00" y="473.84" width="13.6" height="69.46" fill="#FDBF26" stroke="#fff" stroke-width="0.9"/>
<rect x="229.10" y="337.80" width="13.6" height="27.13" fill="#F3CFFB" stroke="#fff" stroke-width="0.9"/>
<rect x="229.10" y="364.93" width="13.6" height="99.67" fill="#6BAED6" stroke="#fff" stroke-width="0.9"/>
<rect x="229.10" y="464.59" width="13.6" height="2.88" fill="#6BAED6" stroke="#fff" stroke-width="0.9"/>
<rect x="229.10" y="467.47" width="13.6" height="58.36" fill="#B6D5E6" stroke="#fff" stroke-width="0.9"/>
<rect x="229.10" y="525.83" width="13.6" height="17.47" fill="#FC7F5F" stroke="#fff" stroke-width="0.9"/>
<rect x="244.20" y="337.80" width="13.6" height="31.24" fill="#F3CFFB" stroke="#fff" stroke-width="0.9"/>
<rect x="244.20" y="369.04" width="13.6" height="2.26" fill="#BCE3B5" stroke="#fff" stroke-width="0.9"/>
<rect x="244.20" y="371.30" width="13.6" height="8.84" fill="#5FB55F" stroke="#fff" stroke-width="0.9"/>
<rect x="244.20" y="380.13" width="13.6" height="4.32" fill="#2271B5" stroke="#fff" stroke-width="0.9"/>
<rect x="244.20" y="384.45" width="13.6" height="6.37" fill="#6BAED6" stroke="#fff" stroke-width="0.9"/>
<rect x="244.20" y="390.82" width="13.6" height="8.22" fill="#6BAED6" stroke="#fff" stroke-width="0.9"/>
<rect x="244.20" y="399.04" width="13.6" height="54.05" fill="#B6D5E6" stroke="#fff" stroke-width="0.9"/>
<rect x="244.20" y="453.09" width="13.6" height="2.06" fill="#CFE7FB" stroke="#fff" stroke-width="0.9"/>
<rect x="244.20" y="455.14" width="13.6" height="7.40" fill="#CFE7FB" stroke="#fff" stroke-width="0.9"/>
<rect x="244.20" y="462.54" width="13.6" height="2.26" fill="#FDBF26" stroke="#fff" stroke-width="0.9"/>
<rect x="244.20" y="464.80" width="13.6" height="78.50" fill="#E8E8CA" stroke="#fff" stroke-width="0.9"/>
<rect x="259.30" y="337.80" width="13.6" height="51.38" fill="#F3CFFB" stroke="#fff" stroke-width="0.9"/>
<rect x="259.30" y="389.17" width="13.6" height="2.05" fill="#BCE3B5" stroke="#fff" stroke-width="0.9"/>
<rect x="259.30" y="391.23" width="13.6" height="19.52" fill="#5FB55F" stroke="#fff" stroke-width="0.9"/>
<rect x="259.30" y="410.75" width="13.6" height="1.44" fill="#FFFFFF" stroke="#fff" stroke-width="0.9"/>
<rect x="259.30" y="412.19" width="13.6" height="6.78" fill="#2271B5" stroke="#fff" stroke-width="0.9"/>
<rect x="259.30" y="418.97" width="13.6" height="71.31" fill="#B6D5E6" stroke="#fff" stroke-width="0.9"/>
<rect x="259.30" y="490.28" width="13.6" height="48.91" fill="#CFE7FB" stroke="#fff" stroke-width="0.9"/>
<rect x="259.30" y="539.19" width="13.6" height="4.11" fill="#FC7F5F" stroke="#fff" stroke-width="0.9"/>
<rect x="274.40" y="337.80" width="13.6" height="64.32" fill="#6BAED6" stroke="#fff" stroke-width="0.9"/>
<rect x="274.40" y="402.12" width="13.6" height="77.68" fill="#6BAED6" stroke="#fff" stroke-width="0.9"/>
<rect x="274.40" y="479.80" width="13.6" height="29.59" fill="#9E99C8" stroke="#fff" stroke-width="0.9"/>
<rect x="274.40" y="509.39" width="13.6" height="7.19" fill="#FC7F5F" stroke="#fff" stroke-width="0.9"/>
<rect x="274.40" y="516.58" width="13.6" height="24.87" fill="#FC7F5F" stroke="#fff" stroke-width="0.9"/>
<rect x="274.40" y="541.45" width="13.6" height="1.85" fill="#C9BA88" stroke="#fff" stroke-width="0.9"/>
<rect x="289.50" y="337.80" width="13.6" height="19.52" fill="#F3CFFB" stroke="#fff" stroke-width="0.9"/>
<rect x="289.50" y="357.32" width="13.6" height="5.34" fill="#BCE3B5" stroke="#fff" stroke-width="0.9"/>
<rect x="289.50" y="362.67" width="13.6" height="49.73" fill="#2271B5" stroke="#fff" stroke-width="0.9"/>
<rect x="289.50" y="412.40" width="13.6" height="43.36" fill="#9E99C8" stroke="#fff" stroke-width="0.9"/>
<rect x="289.50" y="455.76" width="13.6" height="2.67" fill="#E6A070" stroke="#fff" stroke-width="0.9"/>
<rect x="289.50" y="458.43" width="13.6" height="20.14" fill="#FC7F5F" stroke="#fff" stroke-width="0.9"/>
<rect x="289.50" y="478.57" width="13.6" height="20.76" fill="#FDBF26" stroke="#fff" stroke-width="0.9"/>
<rect x="289.50" y="499.32" width="13.6" height="16.85" fill="#C9BA88" stroke="#fff" stroke-width="0.9"/>
<rect x="289.50" y="516.17" width="13.6" height="27.13" fill="#8F8F8F" stroke="#fff" stroke-width="0.9"/>
<rect x="304.60" y="337.80" width="13.6" height="1.44" fill="#B6D5E6" stroke="#fff" stroke-width="0.9"/>
<rect x="304.60" y="339.24" width="13.6" height="1.64" fill="#6BAED6" stroke="#fff" stroke-width="0.9"/>
<rect x="304.60" y="340.88" width="13.6" height="1.23" fill="#B6D5E6" stroke="#fff" stroke-width="0.9"/>
<rect x="304.60" y="342.12" width="13.6" height="1.44" fill="#6BAED6" stroke="#fff" stroke-width="0.9"/>
<rect x="304.60" y="343.55" width="13.6" height="45.00" fill="#B6D5E6" stroke="#fff" stroke-width="0.9"/>
<rect x="304.60" y="388.56" width="13.6" height="5.14" fill="#B6D5E6" stroke="#fff" stroke-width="0.9"/>
<rect x="304.60" y="393.70" width="13.6" height="78.30" fill="#9E99C8" stroke="#fff" stroke-width="0.9"/>
<rect x="304.60" y="471.99" width="13.6" height="5.55" fill="#FC7F5F" stroke="#fff" stroke-width="0.9"/>
<rect x="304.60" y="477.54" width="13.6" height="39.87" fill="#FC7F5F" stroke="#fff" stroke-width="0.9"/>
<rect x="304.60" y="517.41" width="13.6" height="25.89" fill="#C9BA88" stroke="#fff" stroke-width="0.9"/>
<rect x="319.70" y="337.80" width="13.6" height="3.08" fill="#2271B5" stroke="#fff" stroke-width="0.9"/>
<rect x="319.70" y="340.88" width="13.6" height="5.14" fill="#6BAED6" stroke="#fff" stroke-width="0.9"/>
<rect x="319.70" y="346.02" width="13.6" height="1.23" fill="#CFE7FB" stroke="#fff" stroke-width="0.9"/>
<rect x="319.70" y="347.25" width="13.6" height="140.15" fill="#B6D5E6" stroke="#fff" stroke-width="0.9"/>
<rect x="319.70" y="487.40" width="13.6" height="32.26" fill="#B6D5E6" stroke="#fff" stroke-width="0.9"/>
<rect x="319.70" y="519.67" width="13.6" height="4.52" fill="#9E99C8" stroke="#fff" stroke-width="0.9"/>
<rect x="319.70" y="524.19" width="13.6" height="2.05" fill="#FFFFFF" stroke="#fff" stroke-width="0.9"/>
<rect x="319.70" y="526.24" width="13.6" height="17.06" fill="#FC7F5F" stroke="#fff" stroke-width="0.9"/>
<rect x="334.80" y="337.80" width="13.6" height="38.43" fill="#6BAED6" stroke="#fff" stroke-width="0.9"/>
<rect x="334.80" y="376.23" width="13.6" height="39.66" fill="#6BAED6" stroke="#fff" stroke-width="0.9"/>
<rect x="334.80" y="415.89" width="13.6" height="76.86" fill="#9E99C8" stroke="#fff" stroke-width="0.9"/>
<rect x="334.80" y="492.75" width="13.6" height="11.92" fill="#FC7F5F" stroke="#fff" stroke-width="0.9"/>
<rect x="334.80" y="504.67" width="13.6" height="30.21" fill="#FC7F5F" stroke="#fff" stroke-width="0.9"/>
<rect x="334.80" y="534.87" width="13.6" height="8.43" fill="#C9BA88" stroke="#fff" stroke-width="0.9"/>
<rect x="349.90" y="337.80" width="13.6" height="19.93" fill="#F3CFFB" stroke="#fff" stroke-width="0.9"/>
<rect x="349.90" y="357.73" width="13.6" height="17.06" fill="#F3CFFB" stroke="#fff" stroke-width="0.9"/>
<rect x="349.90" y="374.79" width="13.6" height="2.67" fill="#5FB55F" stroke="#fff" stroke-width="0.9"/>
<rect x="349.90" y="377.46" width="13.6" height="26.10" fill="#B6D5E6" stroke="#fff" stroke-width="0.9"/>
<rect x="349.90" y="403.56" width="13.6" height="54.05" fill="#9E99C8" stroke="#fff" stroke-width="0.9"/>
<rect x="349.90" y="457.61" width="13.6" height="3.49" fill="#E6A070" stroke="#fff" stroke-width="0.9"/>
<rect x="349.90" y="461.10" width="13.6" height="6.37" fill="#FC7F5F" stroke="#fff" stroke-width="0.9"/>
<rect x="349.90" y="467.47" width="13.6" height="74.80" fill="#FDBF26" stroke="#fff" stroke-width="0.9"/>
<rect x="349.90" y="542.27" width="13.6" height="1.03" fill="#E8E8CA" stroke="#fff" stroke-width="0.9"/>
<rect x="379.80" y="337.80" width="13.6" height="1.64" fill="#F3CFFB" stroke="#fff" stroke-width="0.9"/>
<rect x="379.80" y="339.44" width="13.6" height="16.65" fill="#F3CFFB" stroke="#fff" stroke-width="0.9"/>
<rect x="379.80" y="356.09" width="13.6" height="5.75" fill="#5FB55F" stroke="#fff" stroke-width="0.9"/>
<rect x="379.80" y="361.84" width="13.6" height="2.67" fill="#BCE3B5" stroke="#fff" stroke-width="0.9"/>
<rect x="379.80" y="364.51" width="13.6" height="13.15" fill="#5FB55F" stroke="#fff" stroke-width="0.9"/>
<rect x="379.80" y="377.67" width="13.6" height="9.86" fill="#2271B5" stroke="#fff" stroke-width="0.9"/>
<rect x="379.80" y="387.53" width="13.6" height="16.03" fill="#B6D5E6" stroke="#fff" stroke-width="0.9"/>
<rect x="379.80" y="403.56" width="13.6" height="19.93" fill="#CFE7FB" stroke="#fff" stroke-width="0.9"/>
<rect x="379.80" y="423.49" width="13.6" height="2.06" fill="#9E99C8" stroke="#fff" stroke-width="0.9"/>
<rect x="379.80" y="425.55" width="13.6" height="2.06" fill="#FFFFFF" stroke="#fff" stroke-width="0.9"/>
<rect x="379.80" y="427.60" width="13.6" height="7.60" fill="#DDDDDD" stroke="#fff" stroke-width="0.9"/>
<rect x="379.80" y="435.21" width="13.6" height="18.08" fill="#E6A070" stroke="#fff" stroke-width="0.9"/>
<rect x="379.80" y="453.29" width="13.6" height="34.32" fill="#F5DB8E" stroke="#fff" stroke-width="0.9"/>
<rect x="379.80" y="487.61" width="13.6" height="51.79" fill="#E8E8CA" stroke="#fff" stroke-width="0.9"/>
<rect x="379.80" y="539.40" width="13.6" height="3.90" fill="#E8E8CA" stroke="#fff" stroke-width="0.9"/>
<rect x="394.85" y="337.80" width="13.6" height="1.64" fill="#F3CFFB" stroke="#fff" stroke-width="0.9"/>
<rect x="394.85" y="339.44" width="13.6" height="13.15" fill="#F3CFFB" stroke="#fff" stroke-width="0.9"/>
<rect x="394.85" y="352.60" width="13.6" height="2.88" fill="#BCE3B5" stroke="#fff" stroke-width="0.9"/>
<rect x="394.85" y="355.47" width="13.6" height="5.96" fill="#5FB55F" stroke="#fff" stroke-width="0.9"/>
<rect x="394.85" y="361.43" width="13.6" height="9.04" fill="#2271B5" stroke="#fff" stroke-width="0.9"/>
<rect x="394.85" y="370.47" width="13.6" height="1.64" fill="#6BAED6" stroke="#fff" stroke-width="0.9"/>
<rect x="394.85" y="372.12" width="13.6" height="1.44" fill="#B6D5E6" stroke="#fff" stroke-width="0.9"/>
<rect x="394.85" y="373.56" width="13.6" height="10.89" fill="#B6D5E6" stroke="#fff" stroke-width="0.9"/>
<rect x="394.85" y="384.45" width="13.6" height="8.43" fill="#CFE7FB" stroke="#fff" stroke-width="0.9"/>
<rect x="394.85" y="392.87" width="13.6" height="31.44" fill="#FDBF26" stroke="#fff" stroke-width="0.9"/>
<rect x="394.85" y="424.32" width="13.6" height="7.40" fill="#DDDDDD" stroke="#fff" stroke-width="0.9"/>
<rect x="394.85" y="431.71" width="13.6" height="52.81" fill="#F5DB8E" stroke="#fff" stroke-width="0.9"/>
<rect x="394.85" y="484.53" width="13.6" height="45.21" fill="#E8E8CA" stroke="#fff" stroke-width="0.9"/>
<rect x="394.85" y="529.74" width="13.6" height="5.34" fill="#E8E8CA" stroke="#fff" stroke-width="0.9"/>
<rect x="394.85" y="535.08" width="13.6" height="7.19" fill="#8F8F8F" stroke="#fff" stroke-width="0.9"/>
<rect x="394.85" y="542.27" width="13.6" height="1.03" fill="#8F8F8F" stroke="#fff" stroke-width="0.9"/>
<rect x="409.90" y="337.80" width="13.6" height="1.23" fill="#FFFFFF" stroke="#fff" stroke-width="0.9"/>
<rect x="409.90" y="339.03" width="13.6" height="6.99" fill="#F3CFFB" stroke="#fff" stroke-width="0.9"/>
<rect x="409.90" y="346.02" width="13.6" height="3.08" fill="#5FB55F" stroke="#fff" stroke-width="0.9"/>
<rect x="409.90" y="349.10" width="13.6" height="19.52" fill="#2271B5" stroke="#fff" stroke-width="0.9"/>
<rect x="409.90" y="368.62" width="13.6" height="5.75" fill="#6BAED6" stroke="#fff" stroke-width="0.9"/>
<rect x="409.90" y="374.38" width="13.6" height="18.50" fill="#B6D5E6" stroke="#fff" stroke-width="0.9"/>
<rect x="409.90" y="392.87" width="13.6" height="4.52" fill="#CFE7FB" stroke="#fff" stroke-width="0.9"/>
<rect x="409.90" y="397.39" width="13.6" height="7.60" fill="#9E99C8" stroke="#fff" stroke-width="0.9"/>
<rect x="409.90" y="405.00" width="13.6" height="15.00" fill="#FDBF26" stroke="#fff" stroke-width="0.9"/>
<rect x="409.90" y="420.00" width="13.6" height="17.88" fill="#DDDDDD" stroke="#fff" stroke-width="0.9"/>
<rect x="409.90" y="437.88" width="13.6" height="5.14" fill="#DDDDDD" stroke="#fff" stroke-width="0.9"/>
<rect x="409.90" y="443.02" width="13.6" height="10.27" fill="#E6A070" stroke="#fff" stroke-width="0.9"/>
<rect x="409.90" y="453.29" width="13.6" height="36.58" fill="#F5DB8E" stroke="#fff" stroke-width="0.9"/>
<rect x="409.90" y="489.87" width="13.6" height="52.40" fill="#E8E8CA" stroke="#fff" stroke-width="0.9"/>
<rect x="409.90" y="542.27" width="13.6" height="1.03" fill="#E8E8CA" stroke="#fff" stroke-width="0.9"/>
<rect x="440.30" y="337.80" width="13.6" height="1.23" fill="#FFFFFF" stroke="#fff" stroke-width="0.9"/>
<rect x="440.30" y="339.03" width="13.6" height="10.69" fill="#5FB55F" stroke="#fff" stroke-width="0.9"/>
<rect x="440.30" y="349.72" width="13.6" height="6.37" fill="#B6D5E6" stroke="#fff" stroke-width="0.9"/>
<rect x="440.30" y="356.09" width="13.6" height="9.45" fill="#F5DB8E" stroke="#fff" stroke-width="0.9"/>
<rect x="440.30" y="365.54" width="13.6" height="108.30" fill="#F5DB8E" stroke="#fff" stroke-width="0.9"/>
<rect x="440.30" y="473.84" width="13.6" height="4.11" fill="#8F8F8F" stroke="#fff" stroke-width="0.9"/>
<rect x="440.30" y="477.95" width="13.6" height="20.96" fill="#8F8F8F" stroke="#fff" stroke-width="0.9"/>
<rect x="440.30" y="498.91" width="13.6" height="4.52" fill="#8F8F8F" stroke="#fff" stroke-width="0.9"/>
<rect x="440.30" y="503.43" width="13.6" height="11.30" fill="#8F8F8F" stroke="#fff" stroke-width="0.9"/>
<rect x="440.30" y="514.74" width="13.6" height="6.37" fill="#8F8F8F" stroke="#fff" stroke-width="0.9"/>
<rect x="440.30" y="521.11" width="13.6" height="3.70" fill="#8F8F8F" stroke="#fff" stroke-width="0.9"/>
<rect x="440.30" y="524.80" width="13.6" height="4.11" fill="#8F8F8F" stroke="#fff" stroke-width="0.9"/>
<rect x="440.30" y="528.91" width="13.6" height="4.11" fill="#8F8F8F" stroke="#fff" stroke-width="0.9"/>
<rect x="440.30" y="533.02" width="13.6" height="10.27" fill="#8F8F8F" stroke="#fff" stroke-width="0.9"/>
<line x1="42.9" x2="48" y1="543.30" y2="543.30" stroke="#1a1a1a" stroke-width="1.6"/>
<text x="38.60" y="548.20" text-anchor="end" font-size="12.9" fill="#1a1a1a">0</text>
<line x1="42.9" x2="48" y1="502.20" y2="502.20" stroke="#1a1a1a" stroke-width="1.6"/>
<text x="39.50" y="507.10" text-anchor="end" font-size="12.9" fill="#1a1a1a">20</text>
<line x1="42.9" x2="48" y1="461.10" y2="461.10" stroke="#1a1a1a" stroke-width="1.6"/>
<text x="39.50" y="466.00" text-anchor="end" font-size="12.9" fill="#1a1a1a">40</text>
<line x1="42.9" x2="48" y1="420.00" y2="420.00" stroke="#1a1a1a" stroke-width="1.6"/>
<text x="39.50" y="424.90" text-anchor="end" font-size="12.9" fill="#1a1a1a">60</text>
<line x1="42.9" x2="48" y1="378.90" y2="378.90" stroke="#1a1a1a" stroke-width="1.6"/>
<text x="39.50" y="383.80" text-anchor="end" font-size="12.9" fill="#1a1a1a">80</text>
<line x1="42.9" x2="48" y1="337.80" y2="337.80" stroke="#1a1a1a" stroke-width="1.6"/>
<text x="40.40" y="342.70" text-anchor="end" font-size="12.9" fill="#1a1a1a">100</text>
<line x1="54.70" x2="54.70" y1="544.4" y2="549.1999999999999" stroke="#1a1a1a" stroke-width="1.9"/>
<text transform="translate(58.80,554.9) rotate(-90)" text-anchor="end" font-size="11.4" fill="#1a1a1a">QG-01</text>
<line x1="69.80" x2="69.80" y1="544.4" y2="549.1999999999999" stroke="#1a1a1a" stroke-width="1.9"/>
<text transform="translate(73.90,554.9) rotate(-90)" text-anchor="end" font-size="11.4" fill="#1a1a1a">QG-02</text>
<line x1="84.90" x2="84.90" y1="544.4" y2="549.1999999999999" stroke="#1a1a1a" stroke-width="1.9"/>
<text transform="translate(89.00,554.9) rotate(-90)" text-anchor="end" font-size="11.4" fill="#1a1a1a">QG-03</text>
<line x1="100.00" x2="100.00" y1="544.4" y2="549.1999999999999" stroke="#1a1a1a" stroke-width="1.9"/>
<text transform="translate(104.10,554.9) rotate(-90)" text-anchor="end" font-size="11.4" fill="#1a1a1a">QG-04</text>
<line x1="115.10" x2="115.10" y1="544.4" y2="549.1999999999999" stroke="#1a1a1a" stroke-width="1.9"/>
<text transform="translate(119.20,554.9) rotate(-90)" text-anchor="end" font-size="11.4" fill="#1a1a1a">QG-05</text>
<line x1="130.20" x2="130.20" y1="544.4" y2="549.1999999999999" stroke="#1a1a1a" stroke-width="1.9"/>
<text transform="translate(134.30,554.9) rotate(-90)" text-anchor="end" font-size="11.4" fill="#1a1a1a">QG-06</text>
<line x1="145.30" x2="145.30" y1="544.4" y2="549.1999999999999" stroke="#1a1a1a" stroke-width="1.9"/>
<text transform="translate(149.40,554.9) rotate(-90)" text-anchor="end" font-size="11.4" fill="#1a1a1a">QG-07</text>
<line x1="160.40" x2="160.40" y1="544.4" y2="549.1999999999999" stroke="#1a1a1a" stroke-width="1.9"/>
<text transform="translate(164.50,554.9) rotate(-90)" text-anchor="end" font-size="11.4" fill="#1a1a1a">QG-08</text>
<line x1="175.50" x2="175.50" y1="544.4" y2="549.1999999999999" stroke="#1a1a1a" stroke-width="1.9"/>
<text transform="translate(179.60,554.9) rotate(-90)" text-anchor="end" font-size="11.4" fill="#1a1a1a">QG-09</text>
<line x1="190.60" x2="190.60" y1="544.4" y2="549.1999999999999" stroke="#1a1a1a" stroke-width="1.9"/>
<text transform="translate(194.70,554.9) rotate(-90)" text-anchor="end" font-size="11.4" fill="#1a1a1a">QG-10</text>
<line x1="205.70" x2="205.70" y1="544.4" y2="549.1999999999999" stroke="#1a1a1a" stroke-width="1.9"/>
<text transform="translate(209.80,554.9) rotate(-90)" text-anchor="end" font-size="11.4" fill="#1a1a1a">QG-11</text>
<line x1="220.80" x2="220.80" y1="544.4" y2="549.1999999999999" stroke="#1a1a1a" stroke-width="1.9"/>
<text transform="translate(224.90,554.9) rotate(-90)" text-anchor="end" font-size="11.4" fill="#1a1a1a">QG-12</text>
<line x1="235.90" x2="235.90" y1="544.4" y2="549.1999999999999" stroke="#1a1a1a" stroke-width="1.9"/>
<text transform="translate(240.00,554.9) rotate(-90)" text-anchor="end" font-size="11.4" fill="#1a1a1a">QG-13</text>
<line x1="251.00" x2="251.00" y1="544.4" y2="549.1999999999999" stroke="#1a1a1a" stroke-width="1.9"/>
<text transform="translate(255.10,554.9) rotate(-90)" text-anchor="end" font-size="11.4" fill="#1a1a1a">QG-14</text>
<line x1="266.10" x2="266.10" y1="544.4" y2="549.1999999999999" stroke="#1a1a1a" stroke-width="1.9"/>
<text transform="translate(270.20,554.9) rotate(-90)" text-anchor="end" font-size="11.4" fill="#1a1a1a">QG-15</text>
<line x1="281.20" x2="281.20" y1="544.4" y2="549.1999999999999" stroke="#1a1a1a" stroke-width="1.9"/>
<text transform="translate(285.30,554.9) rotate(-90)" text-anchor="end" font-size="11.4" fill="#1a1a1a">QG-16</text>
<line x1="296.30" x2="296.30" y1="544.4" y2="549.1999999999999" stroke="#1a1a1a" stroke-width="1.9"/>
<text transform="translate(300.40,554.9) rotate(-90)" text-anchor="end" font-size="11.4" fill="#1a1a1a">QG-17</text>
<line x1="311.40" x2="311.40" y1="544.4" y2="549.1999999999999" stroke="#1a1a1a" stroke-width="1.9"/>
<text transform="translate(315.50,554.9) rotate(-90)" text-anchor="end" font-size="11.4" fill="#1a1a1a">QG-18</text>
<line x1="326.50" x2="326.50" y1="544.4" y2="549.1999999999999" stroke="#1a1a1a" stroke-width="1.9"/>
<text transform="translate(330.60,554.9) rotate(-90)" text-anchor="end" font-size="11.4" fill="#1a1a1a">QG-19</text>
<line x1="341.60" x2="341.60" y1="544.4" y2="549.1999999999999" stroke="#1a1a1a" stroke-width="1.9"/>
<text transform="translate(345.70,554.9) rotate(-90)" text-anchor="end" font-size="11.4" fill="#1a1a1a">QG-20</text>
<line x1="356.70" x2="356.70" y1="544.4" y2="549.1999999999999" stroke="#1a1a1a" stroke-width="1.9"/>
<text transform="translate(360.80,554.9) rotate(-90)" text-anchor="end" font-size="11.4" fill="#1a1a1a">QG-23</text>
<line x1="386.60" x2="386.60" y1="544.4" y2="549.1999999999999" stroke="#1a1a1a" stroke-width="1.9"/>
<text transform="translate(390.70,554.9) rotate(-90)" text-anchor="end" font-size="11.4" fill="#1a1a1a">WG-01</text>
<line x1="401.65" x2="401.65" y1="544.4" y2="549.1999999999999" stroke="#1a1a1a" stroke-width="1.9"/>
<text transform="translate(405.75,554.9) rotate(-90)" text-anchor="end" font-size="11.4" fill="#1a1a1a">WG-02</text>
<line x1="416.70" x2="416.70" y1="544.4" y2="549.1999999999999" stroke="#1a1a1a" stroke-width="1.9"/>
<text transform="translate(420.80,554.9) rotate(-90)" text-anchor="end" font-size="11.4" fill="#1a1a1a">WG-03</text>
<line x1="447.10" x2="447.10" y1="544.4" y2="549.1999999999999" stroke="#1a1a1a" stroke-width="1.9"/>
<text transform="translate(451.20,554.9) rotate(-90)" text-anchor="end" font-size="11.4" fill="#1a1a1a">NC</text>
<text transform="translate(11.6,442.9) rotate(-90)" text-anchor="middle" font-size="13.3" fill="#1a1a1a">Relative abundance</text>
<text x="205.8" y="320.4" text-anchor="middle" font-size="14.5" fill="#1a1a1a">Queen guts</text>
<path d="M54.6,333.2 V326.8 H356.6 V333.2" fill="none" stroke="#1a1a1a" stroke-width="1.8"/>
<text x="402.7" y="320.4" text-anchor="middle" font-size="14.5" fill="#1a1a1a">Worker guts</text>
<path d="M386.6,333.2 V326.8 H416.7 V333.2" fill="none" stroke="#1a1a1a" stroke-width="1.8"/>
<rect x="480.7" y="314.20" width="12.3" height="10.6" fill="#F3CFFB"/>
<text x="504.4" y="324.60" font-size="13.2" font-style="italic" fill="#1a1a1a">Bifidobacterium sp.</text>
<rect x="480.7" y="329.00" width="12.3" height="10.6" fill="#5FB55F"/>
<text x="504.4" y="339.40" font-size="13.2" font-style="italic" fill="#1a1a1a">Bombilactobacillus mellis</text>
<rect x="480.7" y="343.80" width="12.3" height="10.6" fill="#BCE3B5"/>
<text x="504.4" y="354.20" font-size="13.2" font-style="italic" fill="#1a1a1a">Bombilactobacillus mellifer</text>
<rect x="480.7" y="358.60" width="12.3" height="10.6" fill="#2271B5"/>
<text x="504.4" y="369.00" font-size="13.2" font-style="italic" fill="#1a1a1a">Lactobacillus apis</text>
<rect x="480.7" y="373.40" width="12.3" height="10.6" fill="#6BAED6"/>
<text x="504.4" y="383.80" font-size="13.2" font-style="italic" fill="#1a1a1a">Lactobacillus helsingborgensis</text>
<rect x="480.7" y="388.20" width="12.3" height="10.6" fill="#B6D5E6"/>
<text x="504.4" y="398.60" font-size="13.2" font-style="italic" fill="#1a1a1a">Lactobacillus kullabergensis</text>
<rect x="480.7" y="403.00" width="12.3" height="10.6" fill="#CFE7FB"/>
<text x="504.4" y="413.40" font-size="13.2" font-style="italic" fill="#1a1a1a">Lactobacillus melliventris</text>
<rect x="480.7" y="417.80" width="12.3" height="10.6" fill="#9E99C8"/>
<text x="504.4" y="428.20" font-size="13.2" font-style="italic" fill="#1a1a1a">Apilactobacillus kunkeei</text>
<rect x="480.7" y="432.60" width="12.3" height="10.6" fill="#FC7F5F"/>
<text x="504.4" y="443.00" font-size="13.2" font-style="italic" fill="#1a1a1a">Bombella apis</text>
<rect x="480.7" y="447.40" width="12.3" height="10.6" fill="#FDBF26"/>
<text x="504.4" y="457.80" font-size="13.2" font-style="italic" fill="#1a1a1a">Commensalibacter sp.</text>
<rect x="480.7" y="462.20" width="12.3" height="10.6" fill="#DDDDDD"/>
<text x="504.4" y="472.60" font-size="13.2" font-style="italic" fill="#1a1a1a">Bartonella apis</text>
<rect x="480.7" y="477.00" width="12.3" height="10.6" fill="#E6A070"/>
<text x="504.4" y="487.40" font-size="13.2" font-style="italic" fill="#1a1a1a">Frischella perrara</text>
<rect x="480.7" y="491.80" width="12.3" height="10.6" fill="#C9BA88"/>
<text x="504.4" y="502.20" font-size="13.2" font-style="italic" fill="#1a1a1a">Fructobacillus sp.</text>
<rect x="480.7" y="506.60" width="12.3" height="10.6" fill="#F5DB8E"/>
<text x="504.4" y="517.00" font-size="13.2" font-style="italic" fill="#1a1a1a">Gilliamella apicola</text>
<rect x="480.7" y="521.40" width="12.3" height="10.6" fill="#DA8BF5"/>
<text x="504.4" y="531.80" font-size="13.2" font-style="italic" fill="#1a1a1a">Pseudomonas sp.</text>
<rect x="480.7" y="536.20" width="12.3" height="10.6" fill="#E8E8CA"/>
<text x="504.4" y="546.60" font-size="13.2" font-style="italic" fill="#1a1a1a">Snodgrassella alvi</text>
<rect x="480.7" y="551.00" width="12.3" height="10.6" fill="#8F8F8F"/>
<text x="504.4" y="561.40" font-size="13.2" fill="#1a1a1a">Other</text>
<text x="425.2" y="17.7" font-size="20" font-weight="bold" fill="#000">B</text>
<path d="M477.3,57.4 V251.9 H592.6" fill="none" stroke="#333" stroke-width="1.8"/>
<line x1="473.3" x2="477.3" y1="227.55" y2="227.55" stroke="#333" stroke-width="1.5"/>
<text x="467.4" y="232.85" text-anchor="end" font-size="13" fill="#1a1a1a">0.5</text>
<line x1="473.3" x2="477.3" y1="184.10" y2="184.10" stroke="#333" stroke-width="1.5"/>
<text x="467.4" y="189.40" text-anchor="end" font-size="13" fill="#1a1a1a">1.0</text>
<line x1="473.3" x2="477.3" y1="140.65" y2="140.65" stroke="#333" stroke-width="1.5"/>
<text x="467.4" y="145.95" text-anchor="end" font-size="13" fill="#1a1a1a">1.5</text>
<line x1="473.3" x2="477.3" y1="97.20" y2="97.20" stroke="#333" stroke-width="1.5"/>
<text x="467.4" y="102.50" text-anchor="end" font-size="13" fill="#1a1a1a">2.0</text>
<line x1="495.6" x2="495.6" y1="251.9" y2="256" stroke="#333" stroke-width="1.2"/>
<text transform="translate(501.5,265.6) rotate(-45)" text-anchor="end" font-size="13" fill="#1a1a1a">QF</text>
<line x1="536.5" x2="536.5" y1="251.9" y2="256" stroke="#333" stroke-width="1.2"/>
<text transform="translate(542.4,265.6) rotate(-45)" text-anchor="end" font-size="13" fill="#1a1a1a">QG</text>
<line x1="577.4" x2="577.4" y1="251.9" y2="256" stroke="#333" stroke-width="1.2"/>
<text transform="translate(583.3,265.6) rotate(-45)" text-anchor="end" font-size="13" fill="#1a1a1a">WG</text>
<text transform="translate(438.2,154.5) rotate(-90)" text-anchor="middle" font-size="13.2" fill="#1a1a1a">Shannon Diversity</text>
<line x1="496" x2="496" y1="100" y2="166" stroke="#3a3a3a" stroke-width="1.6"/>
<rect x="480.3" y="115.6" width="31.3" height="38.3" fill="#F2DEC4" stroke="#3a3a3a" stroke-width="1.8"/>
<line x1="480.3" x2="511.6" y1="131" y2="131" stroke="#3a3a3a" stroke-width="2.8"/>
<line x1="536.5" x2="536.5" y1="100" y2="176" stroke="#3a3a3a" stroke-width="1.6"/>
<rect x="521.3" y="122.7" width="31.3" height="29.4" fill="#A99E8C" stroke="#3a3a3a" stroke-width="1.8"/>
<line x1="520.9" x2="552.2" y1="130.4" y2="130.4" stroke="#3a3a3a" stroke-width="2.8"/>
<path d="M493.00,93.13 L499.10,103.44 L486.90,103.44 Z" fill="#F2DEC4" stroke="#111" stroke-width="1.4" stroke-linejoin="miter"/>
<path d="M493.60,106.03 L499.70,116.34 L487.50,116.34 Z" fill="#F2DEC4" stroke="#111" stroke-width="1.4" stroke-linejoin="miter"/>
<path d="M495.50,106.83 L501.60,117.14 L489.40,117.14 Z" fill="#F2DEC4" stroke="#111" stroke-width="1.4" stroke-linejoin="miter"/>
<path d="M497.00,108.33 L503.10,118.64 L490.90,118.64 Z" fill="#F2DEC4" stroke="#111" stroke-width="1.4" stroke-linejoin="miter"/>
<path d="M498.50,109.83 L504.60,120.14 L492.40,120.14 Z" fill="#F2DEC4" stroke="#111" stroke-width="1.4" stroke-linejoin="miter"/>
<path d="M497.80,114.73 L503.90,125.04 L491.70,125.04 Z" fill="#F2DEC4" stroke="#111" stroke-width="1.4" stroke-linejoin="miter"/>
<path d="M493.50,119.33 L499.60,129.63 L487.40,129.63 Z" fill="#F2DEC4" stroke="#111" stroke-width="1.4" stroke-linejoin="miter"/>
<path d="M498.40,125.64 L504.50,135.94 L492.30,135.94 Z" fill="#F2DEC4" stroke="#111" stroke-width="1.4" stroke-linejoin="miter"/>
<path d="M492.00,127.83 L498.10,138.13 L485.90,138.13 Z" fill="#F2DEC4" stroke="#111" stroke-width="1.4" stroke-linejoin="miter"/>
<path d="M500.00,129.34 L506.10,139.63 L493.90,139.63 Z" fill="#F2DEC4" stroke="#111" stroke-width="1.4" stroke-linejoin="miter"/>
<path d="M493.50,136.84 L499.60,147.13 L487.40,147.13 Z" fill="#F2DEC4" stroke="#111" stroke-width="1.4" stroke-linejoin="miter"/>
<path d="M493.50,146.34 L499.60,156.63 L487.40,156.63 Z" fill="#F2DEC4" stroke="#111" stroke-width="1.4" stroke-linejoin="miter"/>
<path d="M494.30,146.84 L500.40,157.13 L488.20,157.13 Z" fill="#F2DEC4" stroke="#111" stroke-width="1.4" stroke-linejoin="miter"/>
<path d="M495.10,149.94 L501.20,160.23 L489.00,160.23 Z" fill="#F2DEC4" stroke="#111" stroke-width="1.4" stroke-linejoin="miter"/>
<path d="M494.00,164.24 L500.10,174.53 L487.90,174.53 Z" fill="#F2DEC4" stroke="#111" stroke-width="1.4" stroke-linejoin="miter"/>
<path d="M494.50,170.03 L500.60,180.33 L488.40,180.33 Z" fill="#F2DEC4" stroke="#111" stroke-width="1.4" stroke-linejoin="miter"/>
<path d="M493.50,176.24 L499.60,186.53 L487.40,186.53 Z" fill="#F2DEC4" stroke="#111" stroke-width="1.4" stroke-linejoin="miter"/>
<path d="M495.40,235.64 L501.50,245.94 L489.30,245.94 Z" fill="#F2DEC4" stroke="#111" stroke-width="1.4" stroke-linejoin="miter"/>
<path d="M534.10,104.08 L540.20,93.78 L528.00,93.78 Z" fill="#A99E8C" stroke="#111" stroke-width="1.4" stroke-linejoin="miter"/>
<path d="M536.20,125.18 L542.30,114.88 L530.10,114.88 Z" fill="#A99E8C" stroke="#111" stroke-width="1.4" stroke-linejoin="miter"/>
<path d="M532.50,127.18 L538.60,116.88 L526.40,116.88 Z" fill="#A99E8C" stroke="#111" stroke-width="1.4" stroke-linejoin="miter"/>
<path d="M536.00,128.88 L542.10,118.58 L529.90,118.58 Z" fill="#A99E8C" stroke="#111" stroke-width="1.4" stroke-linejoin="miter"/>
<path d="M539.00,131.18 L545.10,120.88 L532.90,120.88 Z" fill="#A99E8C" stroke="#111" stroke-width="1.4" stroke-linejoin="miter"/>
<path d="M538.00,136.18 L544.10,125.88 L531.90,125.88 Z" fill="#A99E8C" stroke="#111" stroke-width="1.4" stroke-linejoin="miter"/>
<path d="M539.50,139.18 L545.60,128.88 L533.40,128.88 Z" fill="#A99E8C" stroke="#111" stroke-width="1.4" stroke-linejoin="miter"/>
<path d="M537.60,141.68 L543.70,131.38 L531.50,131.38 Z" fill="#A99E8C" stroke="#111" stroke-width="1.4" stroke-linejoin="miter"/>
<path d="M533.00,157.18 L539.10,146.88 L526.90,146.88 Z" fill="#A99E8C" stroke="#111" stroke-width="1.4" stroke-linejoin="miter"/>
<path d="M536.00,153.48 L542.10,143.18 L529.90,143.18 Z" fill="#A99E8C" stroke="#111" stroke-width="1.4" stroke-linejoin="miter"/>
<path d="M539.50,168.18 L545.60,157.88 L533.40,157.88 Z" fill="#A99E8C" stroke="#111" stroke-width="1.4" stroke-linejoin="miter"/>
<path d="M538.00,167.18 L544.10,156.88 L531.90,156.88 Z" fill="#A99E8C" stroke="#111" stroke-width="1.4" stroke-linejoin="miter"/>
<path d="M536.50,166.48 L542.60,156.18 L530.40,156.18 Z" fill="#A99E8C" stroke="#111" stroke-width="1.4" stroke-linejoin="miter"/>
<path d="M539.80,186.18 L545.90,175.88 L533.70,175.88 Z" fill="#A99E8C" stroke="#111" stroke-width="1.4" stroke-linejoin="miter"/>
<path d="M539.20,185.18 L545.30,174.88 L533.10,174.88 Z" fill="#A99E8C" stroke="#111" stroke-width="1.4" stroke-linejoin="miter"/>
<rect x="561.8" y="66.6" width="31.2" height="5.2" fill="#B8B8B8" stroke="#333" stroke-width="1.8"/>
<line x1="561.8" x2="593" y1="68" y2="68" stroke="#333" stroke-width="2.4"/>
<rect x="571.9" y="62.6" width="8.8" height="8.8" fill="#ABABAB" stroke="#222" stroke-width="1.2"/>
<rect x="573.45" y="62.1" width="8.8" height="8.8" fill="#ABABAB" stroke="#222" stroke-width="1.2"/>
<rect x="571.0" y="71.8" width="8.8" height="8.8" fill="#ABABAB" stroke="#222" stroke-width="1.2"/>
<path d="M495.6,80.6 V74 H536.5 V80.6 M515.4,74 V47.9 H577.4 V54.2" fill="none" stroke="#1a1a1a" stroke-width="1.7"/>
<text x="547.9" y="39.7" text-anchor="middle" font-size="12.9" fill="#1a1a1a"><tspan font-style="italic">p</tspan> = 0.01</text>
<text x="0.2" y="622.6" font-size="20" font-weight="bold" fill="#000">C</text>
<text x="219.4" y="620" text-anchor="middle" font-size="14.7" fill="#1a1a1a">Bray−Curtis dissimilarity</text>
<rect x="289" y="819.8" width="100" height="52.4" fill="#EBEBEB"/>
<ellipse cx="206" cy="760.6" rx="124.9" ry="92" transform="rotate(-28.4 206 760.6)" fill="none" stroke="#F0E1CA" stroke-width="1.8"/>
<ellipse cx="222.4" cy="762.6" rx="147.9" ry="70.6" transform="rotate(-22.2 222.4 762.6)" fill="none" stroke="#A99E8C" stroke-width="2"/>
<rect x="49.8" y="630.6" width="338.8" height="242.1" fill="none" stroke="#333" stroke-width="1.7"/>
<line x1="45.3" x2="50" y1="638.80" y2="638.80" stroke="#333" stroke-width="1.5"/>
<text x="42.2" y="644.30" text-anchor="end" font-size="13" fill="#1a1a1a">1.0</text>
<line x1="45.3" x2="50" y1="694.10" y2="694.10" stroke="#333" stroke-width="1.5"/>
<text x="42.2" y="699.60" text-anchor="end" font-size="13" fill="#1a1a1a">0.5</text>
<line x1="45.3" x2="50" y1="749.40" y2="749.40" stroke="#333" stroke-width="1.5"/>
<text x="42.2" y="754.90" text-anchor="end" font-size="13" fill="#1a1a1a">0.0</text>
<line x1="45.3" x2="50" y1="804.70" y2="804.70" stroke="#333" stroke-width="1.5"/>
<text x="42.2" y="810.20" text-anchor="end" font-size="13" fill="#1a1a1a">−0.5</text>
<line x1="45.3" x2="50" y1="860.00" y2="860.00" stroke="#333" stroke-width="1.5"/>
<text x="42.2" y="865.50" text-anchor="end" font-size="13" fill="#1a1a1a">−1.0</text>
<line x1="91.90" x2="91.90" y1="872.7" y2="876.9" stroke="#333" stroke-width="1.5"/>
<text x="91.30" y="891" text-anchor="middle" font-size="13" fill="#1a1a1a">−1.0</text>
<line x1="155.15" x2="155.15" y1="872.7" y2="876.9" stroke="#333" stroke-width="1.5"/>
<text x="154.55" y="891" text-anchor="middle" font-size="13" fill="#1a1a1a">−0.5</text>
<line x1="218.40" x2="218.40" y1="872.7" y2="876.9" stroke="#333" stroke-width="1.5"/>
<text x="218.40" y="891" text-anchor="middle" font-size="13" fill="#1a1a1a">0.0</text>
<line x1="281.65" x2="281.65" y1="872.7" y2="876.9" stroke="#333" stroke-width="1.5"/>
<text x="281.65" y="891" text-anchor="middle" font-size="13" fill="#1a1a1a">0.5</text>
<line x1="344.90" x2="344.90" y1="872.7" y2="876.9" stroke="#333" stroke-width="1.5"/>
<text x="344.90" y="891" text-anchor="middle" font-size="13" fill="#1a1a1a">1.0</text>
<text x="218.8" y="905.8" text-anchor="middle" font-size="12.9" fill="#1a1a1a">NMDS1</text>
<text transform="translate(12.3,751.4) rotate(-90)" text-anchor="middle" font-size="12.9" fill="#1a1a1a">NMDS2</text>
<rect x="62.7" y="696.2" width="10" height="10" fill="#ABABAB" stroke="#222" stroke-width="1.3"/>
<text x="67.70" y="703.60" text-anchor="middle" font-size="5.5" fill="#2a2a2a">1</text>
<rect x="59.8" y="662.3" width="10" height="10" fill="#ABABAB" stroke="#222" stroke-width="1.3"/>
<text x="64.80" y="669.70" text-anchor="middle" font-size="5.5" fill="#2a2a2a">2</text>
<rect x="82.6" y="651.2" width="10" height="10" fill="#ABABAB" stroke="#222" stroke-width="1.3"/>
<text x="87.60" y="658.60" text-anchor="middle" font-size="5.5" fill="#2a2a2a">3</text>
<line x1="225" y1="748.2" x2="221.5" y2="751.7" stroke="#E3D0B5" stroke-width="1"/>
<line x1="178.7" y1="760.4" x2="180.8" y2="765.1" stroke="#E3D0B5" stroke-width="1"/>
<line x1="198" y1="778" x2="199.7" y2="773.9" stroke="#E3D0B5" stroke-width="1"/>
<line x1="186.3" y1="799.6" x2="183.4" y2="794.9" stroke="#E3D0B5" stroke-width="1"/>
<line x1="223.9" y1="791.4" x2="221" y2="787.3" stroke="#E3D0B5" stroke-width="1"/>
<line x1="360.1" y1="757.1" x2="363.1" y2="755.1" stroke="#E3D0B5" stroke-width="1"/>
<line x1="364.7" y1="776.8" x2="367.7" y2="778.8" stroke="#E3D0B5" stroke-width="1"/>
<path d="M206.00,778.63 L212.60,790.03 L199.40,790.03 Z" fill="#F2DEC4" stroke="#111" stroke-width="1.5" stroke-linejoin="miter"/>
<text x="206.00" y="788.80" text-anchor="middle" font-size="6.8" fill="#2a2a2a">1</text>
<path d="M201.30,797.93 L207.90,809.33 L194.70,809.33 Z" fill="#F2DEC4" stroke="#111" stroke-width="1.5" stroke-linejoin="miter"/>
<text x="201.30" y="808.10" text-anchor="middle" font-size="6.8" fill="#2a2a2a">2</text>
<path d="M162.40,783.33 L169.00,794.73 L155.80,794.73 Z" fill="#F2DEC4" stroke="#111" stroke-width="1.5" stroke-linejoin="miter"/>
<text x="162.40" y="793.50" text-anchor="middle" font-size="6.8" fill="#2a2a2a">3</text>
<path d="M165.60,707.43 L172.20,718.83 L159.00,718.83 Z" fill="#F2DEC4" stroke="#111" stroke-width="1.5" stroke-linejoin="miter"/>
<text x="165.60" y="717.60" text-anchor="middle" font-size="6.8" fill="#2a2a2a">4</text>
<path d="M188.50,739.73 L195.10,751.13 L181.90,751.13 Z" fill="#F2DEC4" stroke="#111" stroke-width="1.5" stroke-linejoin="miter"/>
<text x="188.50" y="749.90" text-anchor="middle" font-size="6.8" fill="#2a2a2a">5</text>
<path d="M181.30,765.33 L187.90,776.73 L174.70,776.73 Z" fill="#F2DEC4" stroke="#111" stroke-width="1.5" stroke-linejoin="miter"/>
<text x="181.30" y="775.50" text-anchor="middle" font-size="6.8" fill="#2a2a2a">6</text>
<path d="M201.70,762.33 L208.30,773.73 L195.10,773.73 Z" fill="#F2DEC4" stroke="#111" stroke-width="1.5" stroke-linejoin="miter"/>
<text x="201.70" y="772.50" text-anchor="middle" font-size="6.8" fill="#2a2a2a">7</text>
<path d="M213.90,760.33 L220.50,771.73 L207.30,771.73 Z" fill="#F2DEC4" stroke="#111" stroke-width="1.5" stroke-linejoin="miter"/>
<text x="213.90" y="770.50" text-anchor="middle" font-size="6.8" fill="#2a2a2a">8</text>
<path d="M163.60,729.63 L170.20,741.03 L157.00,741.03 Z" fill="#F2DEC4" stroke="#111" stroke-width="1.5" stroke-linejoin="miter"/>
<text x="163.60" y="739.80" text-anchor="middle" font-size="6.8" fill="#2a2a2a">9</text>
<path d="M182.00,784.33 L188.60,795.73 L175.40,795.73 Z" fill="#F2DEC4" stroke="#111" stroke-width="1.5" stroke-linejoin="miter"/>
<text x="182.00" y="794.50" text-anchor="middle" font-size="6.8" fill="#2a2a2a">10</text>
<path d="M215.90,776.63 L222.50,788.03 L209.30,788.03 Z" fill="#F2DEC4" stroke="#111" stroke-width="1.5" stroke-linejoin="miter"/>
<text x="215.90" y="786.80" text-anchor="middle" font-size="6.8" fill="#2a2a2a">11</text>
<path d="M217.70,746.63 L224.30,758.03 L211.10,758.03 Z" fill="#F2DEC4" stroke="#111" stroke-width="1.5" stroke-linejoin="miter"/>
<text x="217.70" y="756.80" text-anchor="middle" font-size="6.8" fill="#2a2a2a">12</text>
<path d="M240.20,780.43 L246.80,791.83 L233.60,791.83 Z" fill="#F2DEC4" stroke="#111" stroke-width="1.5" stroke-linejoin="miter"/>
<text x="240.20" y="790.60" text-anchor="middle" font-size="6.8" fill="#2a2a2a">13</text>
<path d="M134.90,764.93 L141.50,776.33 L128.30,776.33 Z" fill="#F2DEC4" stroke="#111" stroke-width="1.5" stroke-linejoin="miter"/>
<text x="134.90" y="775.10" text-anchor="middle" font-size="6.8" fill="#2a2a2a">14</text>
<path d="M176.40,788.63 L183.00,800.03 L169.80,800.03 Z" fill="#F2DEC4" stroke="#111" stroke-width="1.5" stroke-linejoin="miter"/>
<text x="176.40" y="798.80" text-anchor="middle" font-size="6.8" fill="#2a2a2a">15</text>
<path d="M371.60,773.73 L378.20,785.13 L365.00,785.13 Z" fill="#F2DEC4" stroke="#111" stroke-width="1.5" stroke-linejoin="miter"/>
<text x="371.60" y="783.90" text-anchor="middle" font-size="6.8" fill="#2a2a2a">16</text>
<path d="M271.50,634.33 L278.10,645.73 L264.90,645.73 Z" fill="#F2DEC4" stroke="#111" stroke-width="1.5" stroke-linejoin="miter"/>
<text x="271.50" y="644.50" text-anchor="middle" font-size="6.8" fill="#2a2a2a">17</text>
<path d="M224.60,643.03 L231.20,654.43 L218.00,654.43 Z" fill="#F2DEC4" stroke="#111" stroke-width="1.5" stroke-linejoin="miter"/>
<text x="224.60" y="653.20" text-anchor="middle" font-size="6.8" fill="#2a2a2a">18</text>
<path d="M265.60,699.73 L272.20,711.13 L259.00,711.13 Z" fill="#F2DEC4" stroke="#111" stroke-width="1.5" stroke-linejoin="miter"/>
<text x="265.60" y="709.90" text-anchor="middle" font-size="6.8" fill="#2a2a2a">19</text>
<path d="M373.40,776.33 L380.00,787.73 L366.80,787.73 Z" fill="#F2DEC4" stroke="#111" stroke-width="1.5" stroke-linejoin="miter"/>
<text x="373.40" y="786.50" text-anchor="middle" font-size="6.8" fill="#2a2a2a">20</text>
<path d="M280.30,680.03 L286.90,691.43 L273.70,691.43 Z" fill="#F2DEC4" stroke="#111" stroke-width="1.5" stroke-linejoin="miter"/>
<text x="280.30" y="690.20" text-anchor="middle" font-size="6.8" fill="#2a2a2a">23</text>
<path d="M211.60,801.74 L218.20,790.34 L205.00,790.34 Z" fill="#A99E8C" stroke="#111" stroke-width="1.5" stroke-linejoin="miter"/>
<text x="211.60" y="795.80" text-anchor="middle" font-size="6.8" fill="#2a2a2a">1</text>
<path d="M210.10,819.84 L216.70,808.44 L203.50,808.44 Z" fill="#A99E8C" stroke="#111" stroke-width="1.5" stroke-linejoin="miter"/>
<text x="210.10" y="813.90" text-anchor="middle" font-size="6.8" fill="#2a2a2a">2</text>
<path d="M177.60,788.54 L184.20,777.14 L171.00,777.14 Z" fill="#A99E8C" stroke="#111" stroke-width="1.5" stroke-linejoin="miter"/>
<text x="177.60" y="782.60" text-anchor="middle" font-size="6.8" fill="#2a2a2a">3</text>
<path d="M189.10,726.74 L195.70,715.34 L182.50,715.34 Z" fill="#A99E8C" stroke="#111" stroke-width="1.5" stroke-linejoin="miter"/>
<text x="189.10" y="720.80" text-anchor="middle" font-size="6.8" fill="#2a2a2a">4</text>
<path d="M199.30,765.14 L205.90,753.74 L192.70,753.74 Z" fill="#A99E8C" stroke="#111" stroke-width="1.5" stroke-linejoin="miter"/>
<text x="199.30" y="759.20" text-anchor="middle" font-size="6.8" fill="#2a2a2a">5</text>
<path d="M181.90,779.74 L188.50,768.34 L175.30,768.34 Z" fill="#A99E8C" stroke="#111" stroke-width="1.5" stroke-linejoin="miter"/>
<text x="181.90" y="773.80" text-anchor="middle" font-size="6.8" fill="#2a2a2a">6</text>
<path d="M204.20,779.04 L210.80,767.64 L197.60,767.64 Z" fill="#A99E8C" stroke="#111" stroke-width="1.5" stroke-linejoin="miter"/>
<text x="204.20" y="773.10" text-anchor="middle" font-size="6.8" fill="#2a2a2a">7</text>
<path d="M216.90,784.24 L223.50,772.84 L210.30,772.84 Z" fill="#A99E8C" stroke="#111" stroke-width="1.5" stroke-linejoin="miter"/>
<text x="216.90" y="778.30" text-anchor="middle" font-size="6.8" fill="#2a2a2a">8</text>
<path d="M209.50,765.84 L216.10,754.44 L202.90,754.44 Z" fill="#A99E8C" stroke="#111" stroke-width="1.5" stroke-linejoin="miter"/>
<text x="209.50" y="759.90" text-anchor="middle" font-size="6.8" fill="#2a2a2a">9</text>
<path d="M189.20,798.24 L195.80,786.84 L182.60,786.84 Z" fill="#A99E8C" stroke="#111" stroke-width="1.5" stroke-linejoin="miter"/>
<text x="189.20" y="792.30" text-anchor="middle" font-size="6.8" fill="#2a2a2a">10</text>
<path d="M229.10,778.64 L235.70,767.24 L222.50,767.24 Z" fill="#A99E8C" stroke="#111" stroke-width="1.5" stroke-linejoin="miter"/>
<text x="229.10" y="772.70" text-anchor="middle" font-size="6.8" fill="#2a2a2a">11</text>
<path d="M225.00,769.24 L231.60,757.84 L218.40,757.84 Z" fill="#A99E8C" stroke="#111" stroke-width="1.5" stroke-linejoin="miter"/>
<text x="225.00" y="763.30" text-anchor="middle" font-size="6.8" fill="#2a2a2a">12</text>
<path d="M259.70,817.94 L266.30,806.54 L253.10,806.54 Z" fill="#A99E8C" stroke="#111" stroke-width="1.5" stroke-linejoin="miter"/>
<text x="259.70" y="812.00" text-anchor="middle" font-size="6.8" fill="#2a2a2a">13</text>
<path d="M149.80,780.34 L156.40,768.94 L143.20,768.94 Z" fill="#A99E8C" stroke="#111" stroke-width="1.5" stroke-linejoin="miter"/>
<text x="149.80" y="774.40" text-anchor="middle" font-size="6.8" fill="#2a2a2a">14</text>
<path d="M166.70,773.34 L173.30,761.94 L160.10,761.94 Z" fill="#A99E8C" stroke="#111" stroke-width="1.5" stroke-linejoin="miter"/>
<text x="166.70" y="767.40" text-anchor="middle" font-size="6.8" fill="#2a2a2a">15</text>
<path d="M365.40,758.84 L372.00,747.44 L358.80,747.44 Z" fill="#A99E8C" stroke="#111" stroke-width="1.5" stroke-linejoin="miter"/>
<text x="365.40" y="752.90" text-anchor="middle" font-size="6.8" fill="#2a2a2a">16</text>
<path d="M290.40,649.54 L297.00,638.14 L283.80,638.14 Z" fill="#A99E8C" stroke="#111" stroke-width="1.5" stroke-linejoin="miter"/>
<text x="290.40" y="643.60" text-anchor="middle" font-size="6.8" fill="#2a2a2a">17</text>
<path d="M329.80,707.74 L336.40,696.34 L323.20,696.34 Z" fill="#A99E8C" stroke="#111" stroke-width="1.5" stroke-linejoin="miter"/>
<text x="329.80" y="701.80" text-anchor="middle" font-size="6.8" fill="#2a2a2a">18</text>
<path d="M305.20,734.04 L311.80,722.64 L298.60,722.64 Z" fill="#A99E8C" stroke="#111" stroke-width="1.5" stroke-linejoin="miter"/>
<text x="305.20" y="728.10" text-anchor="middle" font-size="6.8" fill="#2a2a2a">19</text>
<path d="M370.80,758.14 L377.40,746.74 L364.20,746.74 Z" fill="#A99E8C" stroke="#111" stroke-width="1.5" stroke-linejoin="miter"/>
<text x="370.80" y="752.20" text-anchor="middle" font-size="6.8" fill="#2a2a2a">20</text>
<path d="M288.80,688.64 L295.40,677.24 L282.20,677.24 Z" fill="#A99E8C" stroke="#111" stroke-width="1.5" stroke-linejoin="miter"/>
<text x="288.80" y="682.70" text-anchor="middle" font-size="6.8" fill="#2a2a2a">23</text>
<text x="229.50" y="748.80" text-anchor="middle" font-size="6.5" fill="#2a2a2a">12</text>
<text x="177.60" y="758.80" text-anchor="middle" font-size="6.5" fill="#2a2a2a">6</text>
<text x="195.50" y="783.30" text-anchor="middle" font-size="6.5" fill="#2a2a2a">7</text>
<text x="188.60" y="805.50" text-anchor="middle" font-size="6.5" fill="#2a2a2a">10</text>
<text x="227.40" y="796.70" text-anchor="middle" font-size="6.5" fill="#2a2a2a">11</text>
<text x="356.20" y="761.50" text-anchor="middle" font-size="6.5" fill="#2a2a2a">16</text>
<text x="361.10" y="777.60" text-anchor="middle" font-size="6.5" fill="#2a2a2a">16</text>
<path d="M298.60,823.23 L305.20,834.63 L292.00,834.63 Z" fill="#F2DEC4" stroke="#111" stroke-width="1.3" stroke-linejoin="miter"/>
<path d="M298.60,853.84 L305.20,842.44 L292.00,842.44 Z" fill="#A99E8C" stroke="#111" stroke-width="1.3" stroke-linejoin="miter"/>
<rect x="294" y="856.6" width="10" height="10" fill="#ABABAB" stroke="#222" stroke-width="1.2"/>
<text x="311.5" y="834.6" font-size="13.1" fill="#1a1a1a">Queen feces</text>
<text x="311.5" y="850.3" font-size="13.1" fill="#1a1a1a">Queen gut</text>
<text x="311.5" y="866" font-size="13.1" fill="#1a1a1a">Worker gut</text>
<text x="425.2" y="622.8" font-size="20" font-weight="bold" fill="#000">D</text>
<path d="M489.9,647 V830.1 H594.7" fill="none" stroke="#111" stroke-width="1.9"/>
<line x1="485.5" x2="489.9" y1="822.00" y2="822.00" stroke="#111" stroke-width="1.5"/>
<text x="480.9" y="828.00" text-anchor="end" font-size="13" fill="#1a1a1a">0.00</text>
<line x1="485.5" x2="489.9" y1="780.35" y2="780.35" stroke="#111" stroke-width="1.5"/>
<text x="480.9" y="786.35" text-anchor="end" font-size="13" fill="#1a1a1a">0.25</text>
<line x1="485.5" x2="489.9" y1="738.70" y2="738.70" stroke="#111" stroke-width="1.5"/>
<text x="480.9" y="744.70" text-anchor="end" font-size="13" fill="#1a1a1a">0.50</text>
<line x1="485.5" x2="489.9" y1="697.05" y2="697.05" stroke="#111" stroke-width="1.5"/>
<text x="480.9" y="703.05" text-anchor="end" font-size="13" fill="#1a1a1a">0.75</text>
<line x1="485.5" x2="489.9" y1="655.40" y2="655.40" stroke="#111" stroke-width="1.5"/>
<text x="480.9" y="661.40" text-anchor="end" font-size="13" fill="#1a1a1a">1.00</text>
<line x1="519" x2="519" y1="830" y2="834" stroke="#111" stroke-width="1.2"/>
<text transform="translate(528.5,847) rotate(-45)" text-anchor="end" font-size="13" fill="#1a1a1a">Between−Pair</text>
<line x1="566.4" x2="566.4" y1="830" y2="834" stroke="#111" stroke-width="1.2"/>
<text transform="translate(575.9,847) rotate(-45)" text-anchor="end" font-size="13" fill="#1a1a1a">Within−Pair</text>
<text transform="translate(442,738.3) rotate(-90)" text-anchor="middle" font-size="12.9" fill="#1a1a1a">Distance</text>
<line x1="519" x2="519" y1="655.3" y2="802.2" stroke="#111" stroke-width="1.6"/>
<rect x="502" y="682.3" width="33.6" height="56.2" fill="#fff" stroke="#111" stroke-width="1.8"/>
<line x1="502" x2="535.6" y1="704.2" y2="704.2" stroke="#111" stroke-width="3.8"/>
<line x1="566.4" x2="566.4" y1="762.2" y2="809.2" stroke="#111" stroke-width="1.5"/>
<rect x="549.8" y="785.5" width="33.7" height="16.2" fill="#fff" stroke="#111" stroke-width="1.8"/>
<line x1="549.8" x2="583.5" y1="791.5" y2="791.5" stroke="#111" stroke-width="3.8"/>
<circle cx="566.4" cy="694" r="2.7" fill="#fff" stroke="#111" stroke-width="1.4"/>
<circle cx="566.4" cy="753" r="2.7" fill="#fff" stroke="#111" stroke-width="1.4"/>
<path d="M518.6,641.5 V635 H566.4 V641.5" fill="none" stroke="#1a1a1a" stroke-width="1.9"/>
<text x="542.5" y="627.7" text-anchor="middle" font-size="13.3" fill="#1a1a1a"><tspan font-style="italic">p</tspan> &lt; 2.2e−16</text>
</svg>
</body></html>
